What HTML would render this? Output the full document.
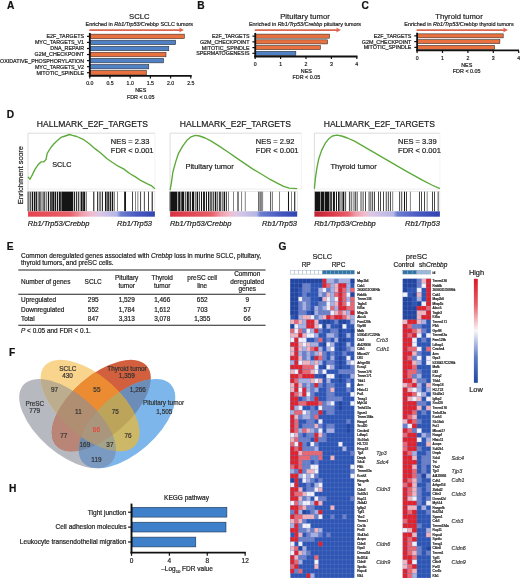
<!DOCTYPE html>
<html lang="en"><head><meta charset="utf-8"><title>Figure</title>
<style>html,body{margin:0;padding:0;background:#fff}svg{display:block}text{font-family:"Liberation Sans",sans-serif;stroke-width:0.2px}</style>
</head><body>
<svg width="520" height="580" viewBox="0 0 520 580">
<defs>
<linearGradient id="cs" x1="0" x2="0" y1="0" y2="1"><stop offset="0" stop-color="#D91A26"/><stop offset="0.25" stop-color="#E8606A"/><stop offset="0.5" stop-color="#FAF6FA"/><stop offset="0.75" stop-color="#5F7DC6"/><stop offset="1" stop-color="#1D48A0"/></linearGradient>
</defs>
<rect width="520" height="580" fill="#fff"/>
<text x="6.90" y="9.20" font-size="10.2" font-weight="bold" fill="#111" stroke="#111" stroke-width="0.38">A</text>
<rect x="90.40" y="34.15" width="93.94" height="4.50" fill="#E9713F" stroke="#2a2a2a" stroke-width="0.55"/>
<text x="84.10" y="38.33" font-size="5.35" text-anchor="end" fill="#222" stroke="#222">E2F_TARGETS</text>
<line x1="87.00" y1="36.40" x2="89.80" y2="36.40" stroke="#111" stroke-width="1.2"/>
<rect x="90.40" y="40.20" width="85.29" height="4.50" fill="#4F81C4" stroke="#2a2a2a" stroke-width="0.55"/>
<text x="84.10" y="44.38" font-size="5.35" text-anchor="end" fill="#222" stroke="#222">MYC_TARGETS_V1</text>
<line x1="87.00" y1="42.45" x2="89.80" y2="42.45" stroke="#111" stroke-width="1.2"/>
<rect x="90.40" y="46.25" width="78.38" height="4.50" fill="#4F81C4" stroke="#2a2a2a" stroke-width="0.55"/>
<text x="84.10" y="50.43" font-size="5.35" text-anchor="end" fill="#222" stroke="#222">DNA_REPAIR</text>
<line x1="87.00" y1="48.50" x2="89.80" y2="48.50" stroke="#111" stroke-width="1.2"/>
<rect x="90.40" y="52.30" width="75.59" height="4.50" fill="#E9713F" stroke="#2a2a2a" stroke-width="0.55"/>
<text x="84.10" y="56.48" font-size="5.35" text-anchor="end" fill="#222" stroke="#222">G2M_CHECKPOINT</text>
<line x1="87.00" y1="54.55" x2="89.80" y2="54.55" stroke="#111" stroke-width="1.2"/>
<rect x="90.40" y="58.35" width="73.17" height="4.50" fill="#4F81C4" stroke="#2a2a2a" stroke-width="0.55"/>
<text x="84.10" y="62.53" font-size="5.35" text-anchor="end" fill="#222" stroke="#222">OXIDATIVE_PHOSPHORYLATION</text>
<line x1="87.00" y1="60.60" x2="89.80" y2="60.60" stroke="#111" stroke-width="1.2"/>
<rect x="90.40" y="64.40" width="58.38" height="4.50" fill="#4F81C4" stroke="#2a2a2a" stroke-width="0.55"/>
<text x="84.10" y="68.58" font-size="5.35" text-anchor="end" fill="#222" stroke="#222">MYC_TARGETS_V2</text>
<line x1="87.00" y1="66.65" x2="89.80" y2="66.65" stroke="#111" stroke-width="1.2"/>
<rect x="90.40" y="70.45" width="55.96" height="4.50" fill="#E9713F" stroke="#2a2a2a" stroke-width="0.55"/>
<text x="84.10" y="74.63" font-size="5.35" text-anchor="end" fill="#222" stroke="#222">MITOTIC_SPINDLE</text>
<line x1="87.00" y1="72.70" x2="89.80" y2="72.70" stroke="#111" stroke-width="1.2"/>
<line x1="89.80" y1="32.95" x2="89.80" y2="76.70" stroke="#111" stroke-width="1.8"/>
<line x1="88.90" y1="75.80" x2="191.70" y2="75.80" stroke="#111" stroke-width="1.8"/>
<line x1="89.80" y1="75.80" x2="89.80" y2="78.40" stroke="#111" stroke-width="1.2"/>
<text x="89.80" y="85.00" font-size="5.2" text-anchor="middle" fill="#222" stroke="#222">0.0</text>
<line x1="110.00" y1="75.80" x2="110.00" y2="78.40" stroke="#111" stroke-width="1.2"/>
<text x="110.00" y="85.00" font-size="5.2" text-anchor="middle" fill="#222" stroke="#222">0.5</text>
<line x1="130.20" y1="75.80" x2="130.20" y2="78.40" stroke="#111" stroke-width="1.2"/>
<text x="130.20" y="85.00" font-size="5.2" text-anchor="middle" fill="#222" stroke="#222">1.0</text>
<line x1="150.40" y1="75.80" x2="150.40" y2="78.40" stroke="#111" stroke-width="1.2"/>
<text x="150.40" y="85.00" font-size="5.2" text-anchor="middle" fill="#222" stroke="#222">1.5</text>
<line x1="170.60" y1="75.80" x2="170.60" y2="78.40" stroke="#111" stroke-width="1.2"/>
<text x="170.60" y="85.00" font-size="5.2" text-anchor="middle" fill="#222" stroke="#222">2.0</text>
<line x1="190.80" y1="75.80" x2="190.80" y2="78.40" stroke="#111" stroke-width="1.2"/>
<text x="190.80" y="85.00" font-size="5.2" text-anchor="middle" fill="#222" stroke="#222">2.5</text>
<text x="140.75" y="92.30" font-size="5.4" text-anchor="middle" fill="#222" stroke="#222">NES</text>
<text x="140.75" y="98.50" font-size="5.4" text-anchor="middle" fill="#222" stroke="#222">FDR &lt; 0.05</text>
<text x="139.30" y="19.00" font-size="7.7" text-anchor="middle" fill="#222" stroke="#222">SCLC</text>
<text x="139.30" y="26.00" font-size="5.45" text-anchor="middle" fill="#222" stroke="#222">Enriched in <tspan font-style="italic">Rb1/Trp53/Crebbp</tspan> SCLC tumors</text>
<line x1="89.30" y1="30.10" x2="182.00" y2="30.10" stroke="#DC6450" stroke-width="1.6"/>
<path d="M184.00 30.10 l-5 -2.5 l1.3 2.5 l-1.3 2.5z" fill="#DC6450"/>
<text x="197.30" y="9.20" font-size="10.2" font-weight="bold" fill="#111" stroke="#111" stroke-width="0.38">B</text>
<rect x="255.80" y="34.10" width="73.82" height="4.10" fill="#E9713F" stroke="#2a2a2a" stroke-width="0.55"/>
<text x="249.50" y="38.08" font-size="5.35" text-anchor="end" fill="#222" stroke="#222">E2F_TARGETS</text>
<line x1="252.40" y1="36.15" x2="255.20" y2="36.15" stroke="#111" stroke-width="1.2"/>
<rect x="255.80" y="39.82" width="71.79" height="4.10" fill="#E9713F" stroke="#2a2a2a" stroke-width="0.55"/>
<text x="249.50" y="43.80" font-size="5.35" text-anchor="end" fill="#222" stroke="#222">G2M_CHECKPOINT</text>
<line x1="252.40" y1="41.87" x2="255.20" y2="41.87" stroke="#111" stroke-width="1.2"/>
<rect x="255.80" y="45.54" width="64.68" height="4.10" fill="#E9713F" stroke="#2a2a2a" stroke-width="0.55"/>
<text x="249.50" y="49.52" font-size="5.35" text-anchor="end" fill="#222" stroke="#222">MITOTIC_SPINDLE</text>
<line x1="252.40" y1="47.59" x2="255.20" y2="47.59" stroke="#111" stroke-width="1.2"/>
<rect x="255.80" y="51.26" width="40.04" height="4.10" fill="#4F81C4" stroke="#2a2a2a" stroke-width="0.55"/>
<text x="249.50" y="55.24" font-size="5.35" text-anchor="end" fill="#222" stroke="#222">SPERMATOGENESIS</text>
<line x1="252.40" y1="53.31" x2="255.20" y2="53.31" stroke="#111" stroke-width="1.2"/>
<line x1="255.20" y1="32.90" x2="255.20" y2="57.40" stroke="#111" stroke-width="1.8"/>
<line x1="254.30" y1="56.50" x2="357.50" y2="56.50" stroke="#111" stroke-width="1.8"/>
<line x1="255.20" y1="56.50" x2="255.20" y2="59.10" stroke="#111" stroke-width="1.2"/>
<text x="255.20" y="65.90" font-size="5.2" text-anchor="middle" fill="#222" stroke="#222">0</text>
<line x1="280.60" y1="56.50" x2="280.60" y2="59.10" stroke="#111" stroke-width="1.2"/>
<text x="280.60" y="65.90" font-size="5.2" text-anchor="middle" fill="#222" stroke="#222">1</text>
<line x1="306.00" y1="56.50" x2="306.00" y2="59.10" stroke="#111" stroke-width="1.2"/>
<text x="306.00" y="65.90" font-size="5.2" text-anchor="middle" fill="#222" stroke="#222">2</text>
<line x1="331.40" y1="56.50" x2="331.40" y2="59.10" stroke="#111" stroke-width="1.2"/>
<text x="331.40" y="65.90" font-size="5.2" text-anchor="middle" fill="#222" stroke="#222">3</text>
<line x1="356.80" y1="56.50" x2="356.80" y2="59.10" stroke="#111" stroke-width="1.2"/>
<text x="356.80" y="65.90" font-size="5.2" text-anchor="middle" fill="#222" stroke="#222">4</text>
<text x="306.35" y="72.60" font-size="5.4" text-anchor="middle" fill="#222" stroke="#222">NES</text>
<text x="306.35" y="79.00" font-size="5.4" text-anchor="middle" fill="#222" stroke="#222">FDR &lt; 0.05</text>
<text x="305.00" y="19.00" font-size="7.7" text-anchor="middle" fill="#222" stroke="#222">Pituitary tumor</text>
<text x="305.00" y="26.00" font-size="5.45" text-anchor="middle" fill="#222" stroke="#222">Enriched in <tspan font-style="italic">Rb1/Trp53/Crebbp</tspan> pituitary tumors</text>
<line x1="254.70" y1="30.10" x2="339.00" y2="30.10" stroke="#DC6450" stroke-width="1.6"/>
<path d="M341.00 30.10 l-5 -2.5 l1.3 2.5 l-1.3 2.5z" fill="#DC6450"/>
<text x="361.50" y="9.20" font-size="10.2" font-weight="bold" fill="#111" stroke="#111" stroke-width="0.38">C</text>
<rect x="417.70" y="33.85" width="85.51" height="4.00" fill="#E9713F" stroke="#2a2a2a" stroke-width="0.55"/>
<text x="411.40" y="37.78" font-size="5.35" text-anchor="end" fill="#222" stroke="#222">E2F_TARGETS</text>
<line x1="414.30" y1="35.85" x2="417.10" y2="35.85" stroke="#111" stroke-width="1.2"/>
<rect x="417.70" y="39.60" width="82.20" height="4.00" fill="#E9713F" stroke="#2a2a2a" stroke-width="0.55"/>
<text x="411.40" y="43.53" font-size="5.35" text-anchor="end" fill="#222" stroke="#222">G2M_CHECKPOINT</text>
<line x1="414.30" y1="41.60" x2="417.10" y2="41.60" stroke="#111" stroke-width="1.2"/>
<rect x="417.70" y="45.35" width="76.87" height="4.00" fill="#E9713F" stroke="#2a2a2a" stroke-width="0.55"/>
<text x="411.40" y="49.28" font-size="5.35" text-anchor="end" fill="#222" stroke="#222">MITOTIC_SPINDLE</text>
<line x1="414.30" y1="47.35" x2="417.10" y2="47.35" stroke="#111" stroke-width="1.2"/>
<line x1="417.10" y1="32.65" x2="417.10" y2="51.30" stroke="#111" stroke-width="1.8"/>
<line x1="416.20" y1="50.40" x2="519.00" y2="50.40" stroke="#111" stroke-width="1.8"/>
<line x1="417.10" y1="50.40" x2="417.10" y2="53.00" stroke="#111" stroke-width="1.2"/>
<text x="417.10" y="60.00" font-size="5.2" text-anchor="middle" fill="#222" stroke="#222">0</text>
<line x1="442.50" y1="50.40" x2="442.50" y2="53.00" stroke="#111" stroke-width="1.2"/>
<text x="442.50" y="60.00" font-size="5.2" text-anchor="middle" fill="#222" stroke="#222">1</text>
<line x1="467.90" y1="50.40" x2="467.90" y2="53.00" stroke="#111" stroke-width="1.2"/>
<text x="467.90" y="60.00" font-size="5.2" text-anchor="middle" fill="#222" stroke="#222">2</text>
<line x1="493.30" y1="50.40" x2="493.30" y2="53.00" stroke="#111" stroke-width="1.2"/>
<text x="493.30" y="60.00" font-size="5.2" text-anchor="middle" fill="#222" stroke="#222">3</text>
<line x1="518.70" y1="50.40" x2="518.70" y2="53.00" stroke="#111" stroke-width="1.2"/>
<text x="518.70" y="60.00" font-size="5.2" text-anchor="middle" fill="#222" stroke="#222">4</text>
<text x="466.70" y="66.90" font-size="5.4" text-anchor="middle" fill="#222" stroke="#222">NES</text>
<text x="466.70" y="73.00" font-size="5.4" text-anchor="middle" fill="#222" stroke="#222">FDR &lt; 0.05</text>
<text x="459.00" y="19.00" font-size="7.7" text-anchor="middle" fill="#222" stroke="#222">Thyroid tumor</text>
<text x="459.00" y="26.00" font-size="5.45" text-anchor="middle" fill="#222" stroke="#222">Enriched in <tspan font-style="italic">Rb1/Trp53/Crebbp</tspan> thyroid tumors</text>
<line x1="416.60" y1="30.10" x2="506.00" y2="30.10" stroke="#DC6450" stroke-width="1.6"/>
<path d="M508.00 30.10 l-5 -2.5 l1.3 2.5 l-1.3 2.5z" fill="#DC6450"/>
<text x="6.70" y="117.90" font-size="10.2" font-weight="bold" fill="#111" stroke="#111" stroke-width="0.38">D</text>
<text transform="translate(23.0 175.2) rotate(-90)" font-size="7.5" text-anchor="middle" fill="#222" stroke="#222">Enrichment score</text>
<path d="M28.00 190.80V133.20H154.90" fill="none" stroke="#d4d4d4" stroke-width="0.8"/>
<line x1="154.90" y1="133.20" x2="154.90" y2="189.10" stroke="#ececec" stroke-width="0.6"/>
<line x1="28.00" y1="189.10" x2="154.90" y2="189.10" stroke="#e0e0e0" stroke-width="0.6"/>
<path d="M28.0 176.9 L30.0 179.2 L32.3 174.9 L35.1 169.1 L38.0 164.8 L40.9 161.9 L43.7 161.9 L46.0 159.6 L47.2 153.3 L50.9 147.5 L53.8 144.0 L56.6 141.2 L60.9 137.4 L65.2 136.0 L69.5 134.5 L72.4 135.4 L76.7 136.5 L83.8 139.7 L89.6 144.0 L95.3 148.9 L101.0 153.3 L106.8 158.5 L112.5 162.5 L118.2 166.2 L124.0 169.1 L129.7 173.5 L135.4 176.9 L141.1 180.7 L146.9 183.6 L151.2 185.6 L154.9 188.7" fill="none" stroke="#5CAA3A" stroke-width="1.35" stroke-linejoin="round"/>
<text x="92.35" y="126.60" font-size="8.57" text-anchor="middle" fill="#222" stroke="#222">HALLMARK_E2F_TARGETS</text>
<text x="110.80" y="143.60" font-size="7.5" fill="#222" stroke="#222">NES = 2.33</text>
<text x="110.80" y="153.00" font-size="7.5" fill="#222" stroke="#222">FDR &lt; 0.001</text>
<text x="52.20" y="167.40" font-size="7.2" fill="#222" stroke="#222">SCLC</text>
<path d="M27.60 191.6H28.63V211.2H27.60zM29.67 191.6H30.71V211.2H29.67zM31.75 191.6H33.05V211.2H31.75zM33.83 191.6H35.38V211.2H33.83zM35.90 191.6H36.94V211.2H35.90zM37.72 191.6H38.50V211.2H37.72zM39.28 191.6H40.58V211.2H39.28zM41.62 191.6H42.39V211.2H41.62zM43.43 191.6H44.73V211.2H43.43zM45.77 191.6H46.55V211.2H45.77zM47.85 191.6H49.14V211.2H47.85zM50.18 191.6H51.74V211.2H50.18zM52.26 191.6H54.08V211.2H52.26zM54.60 191.6H56.15V211.2H54.60zM56.93 191.6H58.23V211.2H56.93zM59.01 191.6H60.83V211.2H59.01zM61.35 191.6H73.29V211.2H61.35zM74.07 191.6H75.11V211.2H74.07zM76.14 191.6H77.18V211.2H76.14zM78.22 191.6H79.26V211.2H78.22zM80.56 191.6H82.63V211.2H80.56zM83.15 191.6H85.23V211.2H83.15zM86.27 191.6H86.79V211.2H86.27zM93.28 191.6H94.32V211.2H93.28zM97.17 191.6H98.21V211.2H97.17zM99.51 191.6H100.55V211.2H99.51zM101.85 191.6H102.88V211.2H101.85zM104.96 191.6H106.52V211.2H104.96zM107.30 191.6H108.86V211.2H107.30zM109.63 191.6H110.93V211.2H109.63zM111.71 191.6H113.27V211.2H111.71zM114.05 191.6H114.57V211.2H114.05zM117.42 191.6H117.94V211.2H117.42zM124.17 191.6H125.99V211.2H124.17zM132.22 191.6H133.00V211.2H132.22zM135.08 191.6H135.60V211.2H135.08zM137.67 191.6H138.19V211.2H137.67zM140.27 191.6H141.05V211.2H140.27zM143.90 191.6H144.68V211.2H143.90zM148.06 191.6H148.84V211.2H148.06zM151.69 191.6H152.73V211.2H151.69z" fill="#151515"/>
<rect x="28.00" y="191.6" width="126.90" height="19.60" fill="none" stroke="#c4c4c4" stroke-width="0.4"/>
<linearGradient id="gsg1" x1="0" x2="1" y1="0" y2="0"><stop offset="0" stop-color="#E5434E"/><stop offset="0.33" stop-color="#E8606A"/><stop offset="0.42" stop-color="#EE9CAA"/><stop offset="0.5" stop-color="#F2BCCB"/><stop offset="0.56" stop-color="#DCC8E6"/><stop offset="0.7" stop-color="#B4B6E6"/><stop offset="0.73" stop-color="#6E7ED0"/><stop offset="0.85" stop-color="#4A5AC2"/><stop offset="1" stop-color="#3044B0"/></linearGradient>
<rect x="28.00" y="211.4" width="126.90" height="5.3" fill="url(#gsg1)"/>
<text x="27.80" y="225.80" font-size="7.5" font-style="italic" fill="#222" stroke="#222">Rb1/Trp53/Crebbp</text>
<text x="152.00" y="225.80" font-size="7.5" text-anchor="end" font-style="italic" fill="#222" stroke="#222">Rb1/Trp53</text>
<path d="M170.10 190.80V133.20H301.50" fill="none" stroke="#d4d4d4" stroke-width="0.8"/>
<line x1="301.50" y1="133.20" x2="301.50" y2="189.10" stroke="#ececec" stroke-width="0.6"/>
<line x1="170.10" y1="189.10" x2="301.50" y2="189.10" stroke="#e0e0e0" stroke-width="0.6"/>
<path d="M170.1 190.2 L171.5 182.1 L172.9 172.0 L175.7 161.9 L178.5 153.3 L182.7 146.1 L186.9 140.3 L191.1 136.8 L195.3 135.4 L199.6 136.0 L205.2 138.0 L210.8 140.9 L219.2 146.1 L227.6 151.8 L236.0 157.6 L244.5 163.4 L252.9 169.1 L261.3 174.0 L269.7 179.2 L278.1 183.6 L283.7 186.4 L289.3 188.2 L297.2 188.7" fill="none" stroke="#5CAA3A" stroke-width="1.35" stroke-linejoin="round"/>
<text x="235.40" y="126.60" font-size="8.57" text-anchor="middle" fill="#222" stroke="#222">HALLMARK_E2F_TARGETS</text>
<text x="255.80" y="143.60" font-size="7.5" fill="#222" stroke="#222">NES = 2.92</text>
<text x="255.80" y="153.00" font-size="7.5" fill="#222" stroke="#222">FDR &lt; 0.001</text>
<text x="185.40" y="168.50" font-size="7.5" fill="#222" stroke="#222">Pituitary tumor</text>
<path d="M169.60 191.6H177.38V211.2H169.60zM178.16 191.6H180.50V211.2H178.16zM181.28 191.6H184.13V211.2H181.28zM184.91 191.6H185.69V211.2H184.91zM186.73 191.6H188.81V211.2H186.73zM189.59 191.6H190.88V211.2H189.59zM191.92 191.6H194.00V211.2H191.92zM194.78 191.6H195.56V211.2H194.78zM196.60 191.6H198.15V211.2H196.60zM199.19 191.6H199.97V211.2H199.19zM201.01 191.6H202.05V211.2H201.01zM203.09 191.6H204.90V211.2H203.09zM205.94 191.6H206.98V211.2H205.94zM208.02 191.6H209.32V211.2H208.02zM210.36 191.6H211.65V211.2H210.36zM212.69 191.6H213.73V211.2H212.69zM214.77 191.6H216.33V211.2H214.77zM217.37 191.6H218.14V211.2H217.37zM219.18 191.6H220.74V211.2H219.18zM221.78 191.6H222.56V211.2H221.78zM223.60 191.6H225.15V211.2H223.60zM226.19 191.6H226.97V211.2H226.19zM228.27 191.6H228.79V211.2H228.27zM233.46 191.6H233.98V211.2H233.46zM237.10 191.6H237.62V211.2H237.10zM238.39 191.6H238.91V211.2H238.39zM241.51 191.6H242.03V211.2H241.51zM244.88 191.6H245.40V211.2H244.88zM258.38 191.6H259.42V211.2H258.38zM260.46 191.6H261.50V211.2H260.46zM262.54 191.6H263.06V211.2H262.54zM270.33 191.6H271.11V211.2H270.33zM272.14 191.6H272.66V211.2H272.14zM279.15 191.6H279.67V211.2H279.15zM287.98 191.6H289.02V211.2H287.98zM291.10 191.6H291.62V211.2H291.10zM294.21 191.6H295.25V211.2H294.21z" fill="#151515"/>
<rect x="170.10" y="191.6" width="127.10" height="19.60" fill="none" stroke="#c4c4c4" stroke-width="0.4"/>
<linearGradient id="gsg2" x1="0" x2="1" y1="0" y2="0"><stop offset="0" stop-color="#D93040"/><stop offset="0.33" stop-color="#E8606A"/><stop offset="0.4" stop-color="#EE9CAA"/><stop offset="0.47" stop-color="#F2BCCB"/><stop offset="0.52" stop-color="#DCC8E6"/><stop offset="0.68" stop-color="#B4B6E6"/><stop offset="0.71" stop-color="#6E7ED0"/><stop offset="0.85" stop-color="#4A5AC2"/><stop offset="1" stop-color="#3044B0"/></linearGradient>
<rect x="170.10" y="211.4" width="127.10" height="5.3" fill="url(#gsg2)"/>
<text x="169.90" y="225.80" font-size="7.5" font-style="italic" fill="#222" stroke="#222">Rb1/Trp53/Crebbp</text>
<text x="297.00" y="225.80" font-size="7.5" text-anchor="end" font-style="italic" fill="#222" stroke="#222">Rb1/Trp53</text>
<path d="M314.40 190.80V133.20H439.90" fill="none" stroke="#d4d4d4" stroke-width="0.8"/>
<line x1="439.90" y1="133.20" x2="439.90" y2="189.10" stroke="#ececec" stroke-width="0.6"/>
<line x1="314.40" y1="189.10" x2="439.90" y2="189.10" stroke="#e0e0e0" stroke-width="0.6"/>
<path d="M314.4 188.7 L315.3 179.2 L316.7 169.1 L318.7 159.0 L321.6 150.4 L325.3 143.2 L328.7 138.8 L332.5 136.0 L336.8 135.1 L341.6 136.0 L347.4 138.0 L354.5 141.2 L363.1 146.1 L371.7 151.2 L380.3 156.1 L388.9 161.1 L397.5 166.2 L406.1 171.1 L414.7 175.8 L423.3 180.7 L431.9 185.0 L439.9 188.7" fill="none" stroke="#5CAA3A" stroke-width="1.35" stroke-linejoin="round"/>
<text x="379.30" y="126.60" font-size="8.57" text-anchor="middle" fill="#222" stroke="#222">HALLMARK_E2F_TARGETS</text>
<text x="398.10" y="143.60" font-size="7.5" fill="#222" stroke="#222">NES = 3.39</text>
<text x="398.10" y="153.00" font-size="7.5" fill="#222" stroke="#222">FDR &lt; 0.001</text>
<text x="330.50" y="168.50" font-size="7.5" fill="#222" stroke="#222">Thyroid tumor</text>
<path d="M314.67 191.6H320.12V211.2H314.67zM320.64 191.6H324.02V211.2H320.64zM324.54 191.6H329.47V211.2H324.54zM330.25 191.6H331.81V211.2H330.25zM332.85 191.6H334.92V211.2H332.85zM335.96 191.6H337.00V211.2H335.96zM338.04 191.6H339.60V211.2H338.04zM340.63 191.6H341.41V211.2H340.63zM342.45 191.6H344.27V211.2H342.45zM345.31 191.6H346.09V211.2H345.31zM348.94 191.6H349.72V211.2H348.94zM350.76 191.6H351.54V211.2H350.76zM352.84 191.6H353.36V211.2H352.84zM354.65 191.6H355.69V211.2H354.65zM356.73 191.6H357.51V211.2H356.73zM360.62 191.6H361.40V211.2H360.62zM362.70 191.6H363.48V211.2H362.70zM365.04 191.6H365.82V211.2H365.04zM368.67 191.6H369.45V211.2H368.67zM370.49 191.6H371.27V211.2H370.49zM372.31 191.6H373.09V211.2H372.31zM374.12 191.6H374.90V211.2H374.12zM378.02 191.6H378.80V211.2H378.02zM380.10 191.6H380.88V211.2H380.10zM383.21 191.6H383.99V211.2H383.21zM385.81 191.6H386.59V211.2H385.81zM387.88 191.6H388.66V211.2H387.88zM389.96 191.6H390.74V211.2H389.96zM392.56 191.6H393.08V211.2H392.56zM399.31 191.6H400.09V211.2H399.31zM401.38 191.6H402.16V211.2H401.38zM403.98 191.6H405.02V211.2H403.98zM406.06 191.6H406.84V211.2H406.06zM409.95 191.6H410.47V211.2H409.95zM419.04 191.6H419.82V211.2H419.04zM421.12 191.6H421.89V211.2H421.12zM424.23 191.6H425.01V211.2H424.23zM426.83 191.6H427.35V211.2H426.83zM432.02 191.6H432.80V211.2H432.02zM434.10 191.6H434.88V211.2H434.10zM437.73 191.6H438.51V211.2H437.73z" fill="#151515"/>
<rect x="314.40" y="191.6" width="125.50" height="19.60" fill="none" stroke="#c4c4c4" stroke-width="0.4"/>
<linearGradient id="gsg3" x1="0" x2="1" y1="0" y2="0"><stop offset="0" stop-color="#C02234"/><stop offset="0.12" stop-color="#D93444"/><stop offset="0.27" stop-color="#E8606A"/><stop offset="0.33" stop-color="#EE9CAA"/><stop offset="0.4" stop-color="#F2BCCB"/><stop offset="0.45" stop-color="#DCC8E6"/><stop offset="0.63" stop-color="#B4B6E6"/><stop offset="0.66" stop-color="#6E7ED0"/><stop offset="0.82" stop-color="#4A5AC2"/><stop offset="1" stop-color="#3044B0"/></linearGradient>
<rect x="314.40" y="211.4" width="125.50" height="5.3" fill="url(#gsg3)"/>
<text x="314.20" y="225.80" font-size="7.5" font-style="italic" fill="#222" stroke="#222">Rb1/Trp53/Crebbp</text>
<text x="439.90" y="225.80" font-size="7.5" text-anchor="end" font-style="italic" fill="#222" stroke="#222">Rb1/Trp53</text>
<text x="6.80" y="249.60" font-size="10.2" font-weight="bold" fill="#111" stroke="#111" stroke-width="0.38">E</text>
<text x="21.00" y="258.30" font-size="6.5" fill="#222" stroke="#222">Common deregulated genes associated with <tspan font-style="italic">Crebbp</tspan> loss in murine SCLC, pituitary,</text>
<text x="21.00" y="265.00" font-size="6.5" fill="#222" stroke="#222">thyroid tumors, and preSC cells.</text>
<line x1="18.3" y1="270.0" x2="265.6" y2="270.0" stroke="#222" stroke-width="1.1"/>
<line x1="18.3" y1="294.3" x2="265.6" y2="294.3" stroke="#222" stroke-width="1.1"/>
<line x1="18.3" y1="325.2" x2="265.6" y2="325.2" stroke="#222" stroke-width="1.1"/>
<text x="21.00" y="283.80" font-size="6.45" fill="#222" stroke="#222">Number of genes</text>
<text x="93.20" y="283.80" font-size="6.45" text-anchor="middle" fill="#222" stroke="#222">SCLC</text>
<text x="126.70" y="279.90" font-size="6.45" text-anchor="middle" fill="#222" stroke="#222">Pituitary</text>
<text x="126.70" y="287.70" font-size="6.45" text-anchor="middle" fill="#222" stroke="#222">tumor</text>
<text x="162.20" y="279.90" font-size="6.45" text-anchor="middle" fill="#222" stroke="#222">Thyroid</text>
<text x="162.20" y="287.70" font-size="6.45" text-anchor="middle" fill="#222" stroke="#222">tumor</text>
<text x="202.20" y="279.90" font-size="6.45" text-anchor="middle" fill="#222" stroke="#222">preSC cell</text>
<text x="202.20" y="287.70" font-size="6.45" text-anchor="middle" fill="#222" stroke="#222">line</text>
<text x="247.20" y="276.20" font-size="6.45" text-anchor="middle" fill="#222" stroke="#222">Common</text>
<text x="247.20" y="283.80" font-size="6.45" text-anchor="middle" fill="#222" stroke="#222">deregulated</text>
<text x="247.20" y="291.40" font-size="6.45" text-anchor="middle" fill="#222" stroke="#222">genes</text>
<text x="21.00" y="302.20" font-size="6.45" fill="#222" stroke="#222">Upregulated</text>
<text x="93.20" y="302.20" font-size="6.45" text-anchor="middle" fill="#222" stroke="#222">295</text>
<text x="126.70" y="302.20" font-size="6.45" text-anchor="middle" fill="#222" stroke="#222">1,529</text>
<text x="162.20" y="302.20" font-size="6.45" text-anchor="middle" fill="#222" stroke="#222">1,466</text>
<text x="202.20" y="302.20" font-size="6.45" text-anchor="middle" fill="#222" stroke="#222">652</text>
<text x="247.20" y="302.20" font-size="6.45" text-anchor="middle" fill="#222" stroke="#222">9</text>
<text x="21.00" y="311.60" font-size="6.45" fill="#222" stroke="#222">Downregulated</text>
<text x="93.20" y="311.60" font-size="6.45" text-anchor="middle" fill="#222" stroke="#222">552</text>
<text x="126.70" y="311.60" font-size="6.45" text-anchor="middle" fill="#222" stroke="#222">1,784</text>
<text x="162.20" y="311.60" font-size="6.45" text-anchor="middle" fill="#222" stroke="#222">1,612</text>
<text x="202.20" y="311.60" font-size="6.45" text-anchor="middle" fill="#222" stroke="#222">703</text>
<text x="247.20" y="311.60" font-size="6.45" text-anchor="middle" fill="#222" stroke="#222">57</text>
<text x="21.00" y="321.00" font-size="6.45" fill="#222" stroke="#222">Total</text>
<text x="93.20" y="321.00" font-size="6.45" text-anchor="middle" fill="#222" stroke="#222">847</text>
<text x="126.70" y="321.00" font-size="6.45" text-anchor="middle" fill="#222" stroke="#222">3,313</text>
<text x="162.20" y="321.00" font-size="6.45" text-anchor="middle" fill="#222" stroke="#222">3,078</text>
<text x="202.20" y="321.00" font-size="6.45" text-anchor="middle" fill="#222" stroke="#222">1,355</text>
<text x="247.20" y="321.00" font-size="6.45" text-anchor="middle" fill="#222" stroke="#222">66</text>
<text x="21.00" y="333.00" font-size="6.45" fill="#222" stroke="#222"><tspan font-style="italic">P</tspan> &lt; 0.05 and FDR &lt; 0.1.</text>
<text x="8.90" y="356.40" font-size="10.2" font-weight="bold" fill="#111" stroke="#111" stroke-width="0.38">F</text>
<defs><clipPath id="cg"><ellipse cx="67.5" cy="423.65" rx="58.7" ry="29.7" transform="rotate(41.2 67.5 423.65)"/></clipPath><clipPath id="cy"><ellipse cx="90.1" cy="405.55" rx="60.3" ry="30.2" transform="rotate(41.2 90.1 405.55)"/></clipPath><clipPath id="cr"><ellipse cx="101.3" cy="405.55" rx="60.3" ry="30.2" transform="rotate(-41.2 101.3 405.55)"/></clipPath><clipPath id="cb"><ellipse cx="127.0" cy="423.6" rx="58.7" ry="29.7" transform="rotate(-41.2 127.0 423.6)"/></clipPath></defs>
<ellipse cx="67.5" cy="423.65" rx="58.7" ry="29.7" transform="rotate(41.2 67.5 423.65)" fill="#B7B9C1"/>
<ellipse cx="90.1" cy="405.55" rx="60.3" ry="30.2" transform="rotate(41.2 90.1 405.55)" fill="#F8D48C"/>
<ellipse cx="101.3" cy="405.55" rx="60.3" ry="30.2" transform="rotate(-41.2 101.3 405.55)" fill="#D2603F"/>
<ellipse cx="127.0" cy="423.6" rx="58.7" ry="29.7" transform="rotate(-41.2 127.0 423.6)" fill="#7DB6EA"/>
<g clip-path="url(#cy)"><ellipse cx="67.5" cy="423.65" rx="58.7" ry="29.7" transform="rotate(41.2 67.5 423.65)" fill="#BBAD8E"/></g>
<g clip-path="url(#cr)"><ellipse cx="90.1" cy="405.55" rx="60.3" ry="30.2" transform="rotate(41.2 90.1 405.55)" fill="#EB8C32"/></g>
<g clip-path="url(#cb)"><ellipse cx="101.3" cy="405.55" rx="60.3" ry="30.2" transform="rotate(-41.2 101.3 405.55)" fill="#6B8DB8"/></g>
<g clip-path="url(#cr)"><ellipse cx="67.5" cy="423.65" rx="58.7" ry="29.7" transform="rotate(41.2 67.5 423.65)" fill="#B98576"/></g>
<g clip-path="url(#cb)"><ellipse cx="90.1" cy="405.55" rx="60.3" ry="30.2" transform="rotate(41.2 90.1 405.55)" fill="#CDB868"/></g>
<g clip-path="url(#cb)"><ellipse cx="67.5" cy="423.65" rx="58.7" ry="29.7" transform="rotate(41.2 67.5 423.65)" fill="#7B9AC2"/></g>
<g clip-path="url(#cr)"><g clip-path="url(#cy)"><ellipse cx="67.5" cy="423.65" rx="58.7" ry="29.7" transform="rotate(41.2 67.5 423.65)" fill="#B08E72"/></g></g>
<g clip-path="url(#cb)"><g clip-path="url(#cr)"><ellipse cx="90.1" cy="405.55" rx="60.3" ry="30.2" transform="rotate(41.2 90.1 405.55)" fill="#BCA45A"/></g></g>
<g clip-path="url(#cb)"><g clip-path="url(#cr)"><ellipse cx="67.5" cy="423.65" rx="58.7" ry="29.7" transform="rotate(41.2 67.5 423.65)" fill="#7189A9"/></g></g>
<g clip-path="url(#cb)"><g clip-path="url(#cy)"><ellipse cx="67.5" cy="423.65" rx="58.7" ry="29.7" transform="rotate(41.2 67.5 423.65)" fill="#A3A38A"/></g></g>
<g clip-path="url(#cb)"><g clip-path="url(#cr)"><g clip-path="url(#cy)"><ellipse cx="67.5" cy="423.65" rx="58.7" ry="29.7" transform="rotate(41.2 67.5 423.65)" fill="#AA967D"/></g></g></g>
<text x="67.90" y="371.20" font-size="6.4" text-anchor="middle" fill="#333" stroke="#333">SCLC</text>
<text x="67.60" y="377.60" font-size="6.4" text-anchor="middle" fill="#333" stroke="#333">430</text>
<text x="127.00" y="370.90" font-size="6.4" text-anchor="middle" fill="#333" stroke="#333">Thyroid tumor</text>
<text x="126.80" y="378.10" font-size="6.4" text-anchor="middle" fill="#333" stroke="#333">1,359</text>
<text x="34.80" y="405.50" font-size="6.4" text-anchor="middle" fill="#333" stroke="#333">PreSC</text>
<text x="34.70" y="413.20" font-size="6.4" text-anchor="middle" fill="#333" stroke="#333">779</text>
<text x="163.60" y="405.40" font-size="6.4" text-anchor="middle" fill="#333" stroke="#333">Pituitary tumor</text>
<text x="164.30" y="413.60" font-size="6.4" text-anchor="middle" fill="#333" stroke="#333">1,505</text>
<text x="54.50" y="392.10" font-size="6.4" text-anchor="middle" fill="#333" stroke="#333">97</text>
<text x="96.90" y="392.10" font-size="6.4" text-anchor="middle" fill="#333" stroke="#333">55</text>
<text x="137.80" y="392.10" font-size="6.4" text-anchor="middle" fill="#333" stroke="#333">1,266</text>
<text x="78.40" y="413.60" font-size="6.4" text-anchor="middle" fill="#333" stroke="#333">11</text>
<text x="115.20" y="413.60" font-size="6.4" text-anchor="middle" fill="#333" stroke="#333">75</text>
<text x="96.40" y="431.90" font-size="6.4" text-anchor="middle" fill="#E8453C" stroke="#E8453C">66</text>
<text x="63.70" y="438.20" font-size="6.4" text-anchor="middle" fill="#333" stroke="#333">77</text>
<text x="128.10" y="438.20" font-size="6.4" text-anchor="middle" fill="#333" stroke="#333">76</text>
<text x="84.90" y="447.20" font-size="6.4" text-anchor="middle" fill="#333" stroke="#333">169</text>
<text x="109.90" y="447.20" font-size="6.4" text-anchor="middle" fill="#333" stroke="#333">37</text>
<text x="96.40" y="462.10" font-size="6.4" text-anchor="middle" fill="#333" stroke="#333">119</text>
<text x="278.40" y="249.80" font-size="10.2" font-weight="bold" fill="#111" stroke="#111" stroke-width="0.38">G</text>
<text x="322.30" y="258.80" font-size="7.4" text-anchor="middle" fill="#222" stroke="#222">SCLC</text>
<text x="306.20" y="266.70" font-size="6.5" text-anchor="middle" fill="#222" stroke="#222">RP</text>
<text x="338.50" y="266.70" font-size="6.5" text-anchor="middle" fill="#222" stroke="#222">RPC</text>
<text x="416.50" y="259.00" font-size="7.6" text-anchor="middle" fill="#222" stroke="#222">preSC</text>
<text x="404.00" y="266.70" font-size="6.5" text-anchor="middle" fill="#222" stroke="#222">Control</text>
<text x="433.20" y="266.70" font-size="6.5" text-anchor="middle" fill="#222" stroke="#222">sh<tspan font-style="italic">Crebbp</tspan></text>
<rect x="290.40" y="270.2" width="4.0" height="3.9" fill="#FFFFFF" stroke="#8fa6b8" stroke-width="0.4"/>
<rect x="294.40" y="270.2" width="4.0" height="3.9" fill="#FFFFFF" stroke="#8fa6b8" stroke-width="0.4"/>
<rect x="298.40" y="270.2" width="4.0" height="3.9" fill="#FFFFFF" stroke="#8fa6b8" stroke-width="0.4"/>
<rect x="302.40" y="270.2" width="4.0" height="3.9" fill="#FFFFFF" stroke="#8fa6b8" stroke-width="0.4"/>
<rect x="306.40" y="270.2" width="4.0" height="3.9" fill="#FFFFFF" stroke="#8fa6b8" stroke-width="0.4"/>
<rect x="310.40" y="270.2" width="4.0" height="3.9" fill="#FFFFFF" stroke="#8fa6b8" stroke-width="0.4"/>
<rect x="314.40" y="270.2" width="4.0" height="3.9" fill="#FFFFFF" stroke="#8fa6b8" stroke-width="0.4"/>
<rect x="318.40" y="270.2" width="4.0" height="3.9" fill="#FFFFFF" stroke="#8fa6b8" stroke-width="0.4"/>
<rect x="322.40" y="270.2" width="4.0" height="3.9" fill="#2F74A8" stroke="#8fa6b8" stroke-width="0.4"/>
<rect x="326.40" y="270.2" width="4.0" height="3.9" fill="#2F74A8" stroke="#8fa6b8" stroke-width="0.4"/>
<rect x="330.40" y="270.2" width="4.0" height="3.9" fill="#2F74A8" stroke="#8fa6b8" stroke-width="0.4"/>
<rect x="334.40" y="270.2" width="4.0" height="3.9" fill="#2F74A8" stroke="#8fa6b8" stroke-width="0.4"/>
<rect x="338.40" y="270.2" width="4.0" height="3.9" fill="#2F74A8" stroke="#8fa6b8" stroke-width="0.4"/>
<rect x="342.40" y="270.2" width="4.0" height="3.9" fill="#2F74A8" stroke="#8fa6b8" stroke-width="0.4"/>
<rect x="346.40" y="270.2" width="4.0" height="3.9" fill="#2F74A8" stroke="#8fa6b8" stroke-width="0.4"/>
<rect x="350.40" y="270.2" width="4.0" height="3.9" fill="#2F74A8" stroke="#8fa6b8" stroke-width="0.4"/>
<text x="357.20" y="273.60" font-size="2.9" font-weight="bold" fill="#111" stroke="#111">id</text>
<rect x="290.4" y="278.8" width="64.00" height="299.11" fill="#2D55B4"/>
<rect x="290.40" y="278.80" width="32.05" height="4.58" fill="#22459F"/>
<rect x="322.40" y="278.80" width="4.05" height="4.58" fill="#DF222C"/>
<rect x="326.40" y="278.80" width="8.05" height="4.58" fill="#A8B0E0"/>
<rect x="334.40" y="278.80" width="4.05" height="4.58" fill="#6A7FC8"/>
<rect x="338.40" y="278.80" width="12.05" height="4.58" fill="#A8B0E0"/>
<rect x="350.40" y="278.80" width="4.05" height="4.58" fill="#22459F"/>
<rect x="290.40" y="283.33" width="12.05" height="4.58" fill="#22459F"/>
<rect x="302.40" y="283.33" width="8.05" height="4.58" fill="#6A7FC8"/>
<rect x="322.40" y="283.33" width="4.05" height="4.58" fill="#DF222C"/>
<rect x="326.40" y="283.33" width="4.05" height="4.58" fill="#EA6670"/>
<rect x="330.40" y="283.33" width="4.05" height="4.58" fill="#A8B0E0"/>
<rect x="334.40" y="283.33" width="4.05" height="4.58" fill="#F2B4BC"/>
<rect x="338.40" y="283.33" width="8.05" height="4.58" fill="#DF222C"/>
<rect x="346.40" y="283.33" width="4.05" height="4.58" fill="#A8B0E0"/>
<rect x="290.40" y="287.86" width="8.05" height="4.58" fill="#22459F"/>
<rect x="302.40" y="287.86" width="8.05" height="4.58" fill="#6A7FC8"/>
<rect x="318.40" y="287.86" width="4.05" height="4.58" fill="#A8B0E0"/>
<rect x="322.40" y="287.86" width="4.05" height="4.58" fill="#F2F0F8"/>
<rect x="326.40" y="287.86" width="4.05" height="4.58" fill="#6A7FC8"/>
<rect x="330.40" y="287.86" width="4.05" height="4.58" fill="#A8B0E0"/>
<rect x="334.40" y="287.86" width="4.05" height="4.58" fill="#F2B4BC"/>
<rect x="338.40" y="287.86" width="4.05" height="4.58" fill="#DF222C"/>
<rect x="342.40" y="287.86" width="4.05" height="4.58" fill="#EA6670"/>
<rect x="346.40" y="287.86" width="4.05" height="4.58" fill="#A8B0E0"/>
<rect x="350.40" y="287.86" width="4.05" height="4.58" fill="#EA6670"/>
<rect x="290.40" y="292.40" width="8.05" height="4.58" fill="#22459F"/>
<rect x="302.40" y="292.40" width="4.05" height="4.58" fill="#6A7FC8"/>
<rect x="318.40" y="292.40" width="4.05" height="4.58" fill="#A8B0E0"/>
<rect x="322.40" y="292.40" width="4.05" height="4.58" fill="#6A7FC8"/>
<rect x="326.40" y="292.40" width="4.05" height="4.58" fill="#F2B4BC"/>
<rect x="330.40" y="292.40" width="4.05" height="4.58" fill="#A8B0E0"/>
<rect x="334.40" y="292.40" width="4.05" height="4.58" fill="#EA6670"/>
<rect x="338.40" y="292.40" width="4.05" height="4.58" fill="#DF222C"/>
<rect x="342.40" y="292.40" width="4.05" height="4.58" fill="#EA6670"/>
<rect x="346.40" y="292.40" width="4.05" height="4.58" fill="#F2F0F8"/>
<rect x="350.40" y="292.40" width="4.05" height="4.58" fill="#22459F"/>
<rect x="290.40" y="296.93" width="8.05" height="4.58" fill="#22459F"/>
<rect x="298.40" y="296.93" width="4.05" height="4.58" fill="#F2F0F8"/>
<rect x="302.40" y="296.93" width="8.05" height="4.58" fill="#6A7FC8"/>
<rect x="318.40" y="296.93" width="4.05" height="4.58" fill="#22459F"/>
<rect x="322.40" y="296.93" width="4.05" height="4.58" fill="#F2B4BC"/>
<rect x="326.40" y="296.93" width="4.05" height="4.58" fill="#F2F0F8"/>
<rect x="330.40" y="296.93" width="4.05" height="4.58" fill="#A8B0E0"/>
<rect x="334.40" y="296.93" width="4.05" height="4.58" fill="#F2F0F8"/>
<rect x="338.40" y="296.93" width="4.05" height="4.58" fill="#DF222C"/>
<rect x="342.40" y="296.93" width="4.05" height="4.58" fill="#EA6670"/>
<rect x="346.40" y="296.93" width="4.05" height="4.58" fill="#A8B0E0"/>
<rect x="350.40" y="296.93" width="4.05" height="4.58" fill="#EA6670"/>
<rect x="290.40" y="301.46" width="8.05" height="4.58" fill="#22459F"/>
<rect x="298.40" y="301.46" width="4.05" height="4.58" fill="#6A7FC8"/>
<rect x="302.40" y="301.46" width="4.05" height="4.58" fill="#A8B0E0"/>
<rect x="306.40" y="301.46" width="4.05" height="4.58" fill="#6A7FC8"/>
<rect x="318.40" y="301.46" width="8.05" height="4.58" fill="#6A7FC8"/>
<rect x="326.40" y="301.46" width="4.05" height="4.58" fill="#F2F0F8"/>
<rect x="330.40" y="301.46" width="4.05" height="4.58" fill="#A8B0E0"/>
<rect x="334.40" y="301.46" width="4.05" height="4.58" fill="#F2B4BC"/>
<rect x="338.40" y="301.46" width="4.05" height="4.58" fill="#DF222C"/>
<rect x="342.40" y="301.46" width="4.05" height="4.58" fill="#EA6670"/>
<rect x="346.40" y="301.46" width="4.05" height="4.58" fill="#F2F0F8"/>
<rect x="350.40" y="301.46" width="4.05" height="4.58" fill="#EA6670"/>
<rect x="290.40" y="305.99" width="8.05" height="4.58" fill="#22459F"/>
<rect x="298.40" y="305.99" width="4.05" height="4.58" fill="#6A7FC8"/>
<rect x="302.40" y="305.99" width="4.05" height="4.58" fill="#A8B0E0"/>
<rect x="306.40" y="305.99" width="4.05" height="4.58" fill="#6A7FC8"/>
<rect x="314.40" y="305.99" width="4.05" height="4.58" fill="#A8B0E0"/>
<rect x="318.40" y="305.99" width="4.05" height="4.58" fill="#6A7FC8"/>
<rect x="322.40" y="305.99" width="4.05" height="4.58" fill="#A8B0E0"/>
<rect x="326.40" y="305.99" width="4.05" height="4.58" fill="#F2F0F8"/>
<rect x="330.40" y="305.99" width="4.05" height="4.58" fill="#EA6670"/>
<rect x="334.40" y="305.99" width="4.05" height="4.58" fill="#A8B0E0"/>
<rect x="338.40" y="305.99" width="8.05" height="4.58" fill="#DF222C"/>
<rect x="346.40" y="305.99" width="8.05" height="4.58" fill="#EA6670"/>
<rect x="290.40" y="310.52" width="8.05" height="4.58" fill="#22459F"/>
<rect x="298.40" y="310.52" width="8.05" height="4.58" fill="#6A7FC8"/>
<rect x="310.40" y="310.52" width="4.05" height="4.58" fill="#22459F"/>
<rect x="314.40" y="310.52" width="4.05" height="4.58" fill="#A8B0E0"/>
<rect x="318.40" y="310.52" width="12.05" height="4.58" fill="#6A7FC8"/>
<rect x="330.40" y="310.52" width="4.05" height="4.58" fill="#F2F0F8"/>
<rect x="334.40" y="310.52" width="4.05" height="4.58" fill="#F2B4BC"/>
<rect x="338.40" y="310.52" width="4.05" height="4.58" fill="#EA6670"/>
<rect x="342.40" y="310.52" width="4.05" height="4.58" fill="#F2B4BC"/>
<rect x="346.40" y="310.52" width="4.05" height="4.58" fill="#A8B0E0"/>
<rect x="350.40" y="310.52" width="4.05" height="4.58" fill="#DF222C"/>
<rect x="294.40" y="315.06" width="4.05" height="4.58" fill="#22459F"/>
<rect x="298.40" y="315.06" width="4.05" height="4.58" fill="#A8B0E0"/>
<rect x="302.40" y="315.06" width="8.05" height="4.58" fill="#F2B4BC"/>
<rect x="310.40" y="315.06" width="4.05" height="4.58" fill="#F2F0F8"/>
<rect x="314.40" y="315.06" width="4.05" height="4.58" fill="#6A7FC8"/>
<rect x="318.40" y="315.06" width="4.05" height="4.58" fill="#A8B0E0"/>
<rect x="322.40" y="315.06" width="4.05" height="4.58" fill="#F2B4BC"/>
<rect x="326.40" y="315.06" width="4.05" height="4.58" fill="#DF222C"/>
<rect x="330.40" y="315.06" width="4.05" height="4.58" fill="#EA6670"/>
<rect x="334.40" y="315.06" width="8.05" height="4.58" fill="#DF222C"/>
<rect x="342.40" y="315.06" width="4.05" height="4.58" fill="#EA6670"/>
<rect x="346.40" y="315.06" width="4.05" height="4.58" fill="#F2B4BC"/>
<rect x="350.40" y="315.06" width="4.05" height="4.58" fill="#A8B0E0"/>
<rect x="290.40" y="319.59" width="4.05" height="4.58" fill="#F2B4BC"/>
<rect x="294.40" y="319.59" width="4.05" height="4.58" fill="#EA6670"/>
<rect x="298.40" y="319.59" width="4.05" height="4.58" fill="#F2B4BC"/>
<rect x="302.40" y="319.59" width="4.05" height="4.58" fill="#A8B0E0"/>
<rect x="306.40" y="319.59" width="8.05" height="4.58" fill="#DF222C"/>
<rect x="314.40" y="319.59" width="4.05" height="4.58" fill="#F2B4BC"/>
<rect x="322.40" y="319.59" width="8.05" height="4.58" fill="#22459F"/>
<rect x="334.40" y="319.59" width="4.05" height="4.58" fill="#6A7FC8"/>
<rect x="338.40" y="319.59" width="8.05" height="4.58" fill="#22459F"/>
<rect x="350.40" y="319.59" width="4.05" height="4.58" fill="#A8B0E0"/>
<rect x="290.40" y="324.12" width="4.05" height="4.58" fill="#22459F"/>
<rect x="294.40" y="324.12" width="4.05" height="4.58" fill="#F2F0F8"/>
<rect x="298.40" y="324.12" width="8.05" height="4.58" fill="#A8B0E0"/>
<rect x="306.40" y="324.12" width="8.05" height="4.58" fill="#DF222C"/>
<rect x="314.40" y="324.12" width="4.05" height="4.58" fill="#F2B4BC"/>
<rect x="318.40" y="324.12" width="4.05" height="4.58" fill="#F2F0F8"/>
<rect x="322.40" y="324.12" width="4.05" height="4.58" fill="#22459F"/>
<rect x="326.40" y="324.12" width="4.05" height="4.58" fill="#A8B0E0"/>
<rect x="338.40" y="324.12" width="4.05" height="4.58" fill="#22459F"/>
<rect x="342.40" y="324.12" width="4.05" height="4.58" fill="#F2F0F8"/>
<rect x="290.40" y="328.65" width="4.05" height="4.58" fill="#EA6670"/>
<rect x="294.40" y="328.65" width="4.05" height="4.58" fill="#F2F0F8"/>
<rect x="298.40" y="328.65" width="4.05" height="4.58" fill="#EA6670"/>
<rect x="302.40" y="328.65" width="4.05" height="4.58" fill="#6A7FC8"/>
<rect x="306.40" y="328.65" width="4.05" height="4.58" fill="#F2F0F8"/>
<rect x="310.40" y="328.65" width="4.05" height="4.58" fill="#A8B0E0"/>
<rect x="314.40" y="328.65" width="4.05" height="4.58" fill="#DF222C"/>
<rect x="318.40" y="328.65" width="4.05" height="4.58" fill="#6A7FC8"/>
<rect x="330.40" y="328.65" width="8.05" height="4.58" fill="#6A7FC8"/>
<rect x="338.40" y="328.65" width="4.05" height="4.58" fill="#22459F"/>
<rect x="350.40" y="328.65" width="4.05" height="4.58" fill="#22459F"/>
<rect x="290.40" y="333.18" width="8.05" height="4.58" fill="#F2B4BC"/>
<rect x="298.40" y="333.18" width="4.05" height="4.58" fill="#DF222C"/>
<rect x="302.40" y="333.18" width="4.05" height="4.58" fill="#F2B4BC"/>
<rect x="306.40" y="333.18" width="8.05" height="4.58" fill="#F2F0F8"/>
<rect x="314.40" y="333.18" width="4.05" height="4.58" fill="#A8B0E0"/>
<rect x="326.40" y="333.18" width="8.05" height="4.58" fill="#A8B0E0"/>
<rect x="334.40" y="333.18" width="4.05" height="4.58" fill="#6A7FC8"/>
<rect x="338.40" y="333.18" width="4.05" height="4.58" fill="#22459F"/>
<rect x="346.40" y="333.18" width="4.05" height="4.58" fill="#A8B0E0"/>
<rect x="290.40" y="337.72" width="4.05" height="4.58" fill="#F2F0F8"/>
<rect x="294.40" y="337.72" width="4.05" height="4.58" fill="#DF222C"/>
<rect x="298.40" y="337.72" width="8.05" height="4.58" fill="#F2F0F8"/>
<rect x="314.40" y="337.72" width="4.05" height="4.58" fill="#6A7FC8"/>
<rect x="318.40" y="337.72" width="4.05" height="4.58" fill="#EA6670"/>
<rect x="326.40" y="337.72" width="4.05" height="4.58" fill="#6A7FC8"/>
<rect x="334.40" y="337.72" width="4.05" height="4.58" fill="#A8B0E0"/>
<rect x="338.40" y="337.72" width="8.05" height="4.58" fill="#22459F"/>
<rect x="290.40" y="342.25" width="8.05" height="4.58" fill="#DF222C"/>
<rect x="298.40" y="342.25" width="4.05" height="4.58" fill="#F2B4BC"/>
<rect x="302.40" y="342.25" width="4.05" height="4.58" fill="#F2F0F8"/>
<rect x="306.40" y="342.25" width="4.05" height="4.58" fill="#F2B4BC"/>
<rect x="310.40" y="342.25" width="8.05" height="4.58" fill="#A8B0E0"/>
<rect x="322.40" y="342.25" width="4.05" height="4.58" fill="#22459F"/>
<rect x="326.40" y="342.25" width="4.05" height="4.58" fill="#F2F0F8"/>
<rect x="330.40" y="342.25" width="4.05" height="4.58" fill="#A8B0E0"/>
<rect x="338.40" y="342.25" width="4.05" height="4.58" fill="#22459F"/>
<rect x="346.40" y="342.25" width="4.05" height="4.58" fill="#A8B0E0"/>
<rect x="290.40" y="346.78" width="4.05" height="4.58" fill="#F2B4BC"/>
<rect x="294.40" y="346.78" width="4.05" height="4.58" fill="#DF222C"/>
<rect x="298.40" y="346.78" width="4.05" height="4.58" fill="#F2B4BC"/>
<rect x="302.40" y="346.78" width="4.05" height="4.58" fill="#A8B0E0"/>
<rect x="306.40" y="346.78" width="4.05" height="4.58" fill="#F2B4BC"/>
<rect x="310.40" y="346.78" width="4.05" height="4.58" fill="#EA6670"/>
<rect x="314.40" y="346.78" width="4.05" height="4.58" fill="#DF222C"/>
<rect x="318.40" y="346.78" width="4.05" height="4.58" fill="#A8B0E0"/>
<rect x="326.40" y="346.78" width="4.05" height="4.58" fill="#A8B0E0"/>
<rect x="330.40" y="346.78" width="4.05" height="4.58" fill="#F2F0F8"/>
<rect x="338.40" y="346.78" width="4.05" height="4.58" fill="#22459F"/>
<rect x="346.40" y="346.78" width="4.05" height="4.58" fill="#6A7FC8"/>
<rect x="350.40" y="346.78" width="4.05" height="4.58" fill="#A8B0E0"/>
<rect x="290.40" y="351.31" width="4.05" height="4.58" fill="#F2B4BC"/>
<rect x="294.40" y="351.31" width="4.05" height="4.58" fill="#DF222C"/>
<rect x="298.40" y="351.31" width="4.05" height="4.58" fill="#A8B0E0"/>
<rect x="302.40" y="351.31" width="4.05" height="4.58" fill="#6A7FC8"/>
<rect x="306.40" y="351.31" width="4.05" height="4.58" fill="#A8B0E0"/>
<rect x="310.40" y="351.31" width="4.05" height="4.58" fill="#6A7FC8"/>
<rect x="314.40" y="351.31" width="4.05" height="4.58" fill="#A8B0E0"/>
<rect x="318.40" y="351.31" width="4.05" height="4.58" fill="#F2B4BC"/>
<rect x="322.40" y="351.31" width="4.05" height="4.58" fill="#6A7FC8"/>
<rect x="330.40" y="351.31" width="4.05" height="4.58" fill="#6A7FC8"/>
<rect x="342.40" y="351.31" width="4.05" height="4.58" fill="#6A7FC8"/>
<rect x="290.40" y="355.84" width="8.05" height="4.58" fill="#DF222C"/>
<rect x="298.40" y="355.84" width="4.05" height="4.58" fill="#F2B4BC"/>
<rect x="302.40" y="355.84" width="4.05" height="4.58" fill="#6A7FC8"/>
<rect x="306.40" y="355.84" width="4.05" height="4.58" fill="#A8B0E0"/>
<rect x="314.40" y="355.84" width="4.05" height="4.58" fill="#DF222C"/>
<rect x="318.40" y="355.84" width="4.05" height="4.58" fill="#EA6670"/>
<rect x="322.40" y="355.84" width="4.05" height="4.58" fill="#6A7FC8"/>
<rect x="330.40" y="355.84" width="4.05" height="4.58" fill="#A8B0E0"/>
<rect x="338.40" y="355.84" width="4.05" height="4.58" fill="#22459F"/>
<rect x="346.40" y="355.84" width="4.05" height="4.58" fill="#F2F0F8"/>
<rect x="290.40" y="360.38" width="4.05" height="4.58" fill="#A8B0E0"/>
<rect x="294.40" y="360.38" width="4.05" height="4.58" fill="#DF222C"/>
<rect x="298.40" y="360.38" width="4.05" height="4.58" fill="#F2F0F8"/>
<rect x="302.40" y="360.38" width="8.05" height="4.58" fill="#F2B4BC"/>
<rect x="310.40" y="360.38" width="4.05" height="4.58" fill="#A8B0E0"/>
<rect x="314.40" y="360.38" width="4.05" height="4.58" fill="#F2B4BC"/>
<rect x="318.40" y="360.38" width="4.05" height="4.58" fill="#A8B0E0"/>
<rect x="326.40" y="360.38" width="8.05" height="4.58" fill="#6A7FC8"/>
<rect x="338.40" y="360.38" width="4.05" height="4.58" fill="#22459F"/>
<rect x="346.40" y="360.38" width="4.05" height="4.58" fill="#A8B0E0"/>
<rect x="350.40" y="360.38" width="4.05" height="4.58" fill="#F2F0F8"/>
<rect x="290.40" y="364.91" width="12.05" height="4.58" fill="#DF222C"/>
<rect x="302.40" y="364.91" width="12.05" height="4.58" fill="#EA6670"/>
<rect x="314.40" y="364.91" width="4.05" height="4.58" fill="#F2F0F8"/>
<rect x="322.40" y="364.91" width="4.05" height="4.58" fill="#22459F"/>
<rect x="326.40" y="364.91" width="4.05" height="4.58" fill="#F2F0F8"/>
<rect x="330.40" y="364.91" width="4.05" height="4.58" fill="#A8B0E0"/>
<rect x="338.40" y="364.91" width="4.05" height="4.58" fill="#22459F"/>
<rect x="350.40" y="364.91" width="4.05" height="4.58" fill="#6A7FC8"/>
<rect x="290.40" y="369.44" width="4.05" height="4.58" fill="#F2B4BC"/>
<rect x="294.40" y="369.44" width="4.05" height="4.58" fill="#F2F0F8"/>
<rect x="298.40" y="369.44" width="4.05" height="4.58" fill="#DF222C"/>
<rect x="302.40" y="369.44" width="8.05" height="4.58" fill="#EA6670"/>
<rect x="310.40" y="369.44" width="4.05" height="4.58" fill="#F2B4BC"/>
<rect x="314.40" y="369.44" width="4.05" height="4.58" fill="#F2F0F8"/>
<rect x="318.40" y="369.44" width="4.05" height="4.58" fill="#6A7FC8"/>
<rect x="322.40" y="369.44" width="4.05" height="4.58" fill="#F2F0F8"/>
<rect x="338.40" y="369.44" width="16.05" height="4.58" fill="#6A7FC8"/>
<rect x="290.40" y="373.97" width="8.05" height="4.58" fill="#DF222C"/>
<rect x="298.40" y="373.97" width="4.05" height="4.58" fill="#EA6670"/>
<rect x="302.40" y="373.97" width="12.05" height="4.58" fill="#DF222C"/>
<rect x="322.40" y="373.97" width="4.05" height="4.58" fill="#22459F"/>
<rect x="326.40" y="373.97" width="8.05" height="4.58" fill="#F2F0F8"/>
<rect x="338.40" y="373.97" width="4.05" height="4.58" fill="#22459F"/>
<rect x="350.40" y="373.97" width="4.05" height="4.58" fill="#A8B0E0"/>
<rect x="290.40" y="378.50" width="4.05" height="4.58" fill="#DF222C"/>
<rect x="294.40" y="378.50" width="4.05" height="4.58" fill="#EA6670"/>
<rect x="298.40" y="378.50" width="12.05" height="4.58" fill="#A8B0E0"/>
<rect x="310.40" y="378.50" width="4.05" height="4.58" fill="#F2B4BC"/>
<rect x="314.40" y="378.50" width="4.05" height="4.58" fill="#F2F0F8"/>
<rect x="318.40" y="378.50" width="4.05" height="4.58" fill="#F2B4BC"/>
<rect x="326.40" y="378.50" width="4.05" height="4.58" fill="#A8B0E0"/>
<rect x="338.40" y="378.50" width="4.05" height="4.58" fill="#22459F"/>
<rect x="346.40" y="378.50" width="4.05" height="4.58" fill="#6A7FC8"/>
<rect x="290.40" y="383.04" width="4.05" height="4.58" fill="#F2B4BC"/>
<rect x="294.40" y="383.04" width="4.05" height="4.58" fill="#DF222C"/>
<rect x="298.40" y="383.04" width="4.05" height="4.58" fill="#F2B4BC"/>
<rect x="302.40" y="383.04" width="4.05" height="4.58" fill="#6A7FC8"/>
<rect x="306.40" y="383.04" width="4.05" height="4.58" fill="#A8B0E0"/>
<rect x="310.40" y="383.04" width="4.05" height="4.58" fill="#6A7FC8"/>
<rect x="314.40" y="383.04" width="4.05" height="4.58" fill="#DF222C"/>
<rect x="318.40" y="383.04" width="4.05" height="4.58" fill="#6A7FC8"/>
<rect x="326.40" y="383.04" width="8.05" height="4.58" fill="#6A7FC8"/>
<rect x="346.40" y="383.04" width="4.05" height="4.58" fill="#F2F0F8"/>
<rect x="290.40" y="387.57" width="4.05" height="4.58" fill="#F2B4BC"/>
<rect x="294.40" y="387.57" width="4.05" height="4.58" fill="#DF222C"/>
<rect x="298.40" y="387.57" width="4.05" height="4.58" fill="#F2F0F8"/>
<rect x="302.40" y="387.57" width="4.05" height="4.58" fill="#DF222C"/>
<rect x="306.40" y="387.57" width="4.05" height="4.58" fill="#A8B0E0"/>
<rect x="310.40" y="387.57" width="4.05" height="4.58" fill="#6A7FC8"/>
<rect x="314.40" y="387.57" width="4.05" height="4.58" fill="#A8B0E0"/>
<rect x="326.40" y="387.57" width="4.05" height="4.58" fill="#6A7FC8"/>
<rect x="330.40" y="387.57" width="4.05" height="4.58" fill="#F2B4BC"/>
<rect x="346.40" y="387.57" width="4.05" height="4.58" fill="#6A7FC8"/>
<rect x="290.40" y="392.10" width="4.05" height="4.58" fill="#DF222C"/>
<rect x="294.40" y="392.10" width="4.05" height="4.58" fill="#EA6670"/>
<rect x="298.40" y="392.10" width="4.05" height="4.58" fill="#F2B4BC"/>
<rect x="302.40" y="392.10" width="4.05" height="4.58" fill="#DF222C"/>
<rect x="306.40" y="392.10" width="4.05" height="4.58" fill="#F2F0F8"/>
<rect x="310.40" y="392.10" width="4.05" height="4.58" fill="#6A7FC8"/>
<rect x="326.40" y="392.10" width="8.05" height="4.58" fill="#6A7FC8"/>
<rect x="350.40" y="392.10" width="4.05" height="4.58" fill="#F2F0F8"/>
<rect x="290.40" y="396.63" width="8.05" height="4.58" fill="#DF222C"/>
<rect x="302.40" y="396.63" width="4.05" height="4.58" fill="#6A7FC8"/>
<rect x="306.40" y="396.63" width="4.05" height="4.58" fill="#A8B0E0"/>
<rect x="310.40" y="396.63" width="4.05" height="4.58" fill="#6A7FC8"/>
<rect x="314.40" y="396.63" width="4.05" height="4.58" fill="#DF222C"/>
<rect x="326.40" y="396.63" width="16.05" height="4.58" fill="#6A7FC8"/>
<rect x="290.40" y="401.16" width="8.05" height="4.58" fill="#DF222C"/>
<rect x="298.40" y="401.16" width="8.05" height="4.58" fill="#EA6670"/>
<rect x="306.40" y="401.16" width="12.05" height="4.58" fill="#DF222C"/>
<rect x="318.40" y="401.16" width="4.05" height="4.58" fill="#EA6670"/>
<rect x="322.40" y="401.16" width="4.05" height="4.58" fill="#6A7FC8"/>
<rect x="326.40" y="401.16" width="4.05" height="4.58" fill="#A8B0E0"/>
<rect x="330.40" y="401.16" width="4.05" height="4.58" fill="#F2F0F8"/>
<rect x="338.40" y="401.16" width="4.05" height="4.58" fill="#22459F"/>
<rect x="350.40" y="401.16" width="4.05" height="4.58" fill="#F2F0F8"/>
<rect x="290.40" y="405.70" width="4.05" height="4.58" fill="#DF222C"/>
<rect x="294.40" y="405.70" width="4.05" height="4.58" fill="#A8B0E0"/>
<rect x="298.40" y="405.70" width="4.05" height="4.58" fill="#F2F0F8"/>
<rect x="310.40" y="405.70" width="4.05" height="4.58" fill="#6A7FC8"/>
<rect x="318.40" y="405.70" width="4.05" height="4.58" fill="#F2F0F8"/>
<rect x="322.40" y="405.70" width="12.05" height="4.58" fill="#6A7FC8"/>
<rect x="338.40" y="405.70" width="4.05" height="4.58" fill="#22459F"/>
<rect x="290.40" y="410.23" width="4.05" height="4.58" fill="#A8B0E0"/>
<rect x="294.40" y="410.23" width="8.05" height="4.58" fill="#EA6670"/>
<rect x="302.40" y="410.23" width="4.05" height="4.58" fill="#F2F0F8"/>
<rect x="306.40" y="410.23" width="4.05" height="4.58" fill="#A8B0E0"/>
<rect x="310.40" y="410.23" width="8.05" height="4.58" fill="#6A7FC8"/>
<rect x="318.40" y="410.23" width="4.05" height="4.58" fill="#DF222C"/>
<rect x="326.40" y="410.23" width="8.05" height="4.58" fill="#6A7FC8"/>
<rect x="290.40" y="414.76" width="4.05" height="4.58" fill="#DF222C"/>
<rect x="294.40" y="414.76" width="4.05" height="4.58" fill="#F2B4BC"/>
<rect x="298.40" y="414.76" width="4.05" height="4.58" fill="#6A7FC8"/>
<rect x="302.40" y="414.76" width="8.05" height="4.58" fill="#A8B0E0"/>
<rect x="310.40" y="414.76" width="4.05" height="4.58" fill="#6A7FC8"/>
<rect x="314.40" y="414.76" width="4.05" height="4.58" fill="#EA6670"/>
<rect x="290.40" y="419.29" width="4.05" height="4.58" fill="#DF222C"/>
<rect x="294.40" y="419.29" width="4.05" height="4.58" fill="#EA6670"/>
<rect x="306.40" y="419.29" width="8.05" height="4.58" fill="#6A7FC8"/>
<rect x="318.40" y="419.29" width="4.05" height="4.58" fill="#F2F0F8"/>
<rect x="346.40" y="419.29" width="4.05" height="4.58" fill="#6A7FC8"/>
<rect x="290.40" y="423.82" width="4.05" height="4.58" fill="#DF222C"/>
<rect x="294.40" y="423.82" width="4.05" height="4.58" fill="#EA6670"/>
<rect x="302.40" y="423.82" width="12.05" height="4.58" fill="#6A7FC8"/>
<rect x="314.40" y="423.82" width="4.05" height="4.58" fill="#F2B4BC"/>
<rect x="318.40" y="423.82" width="4.05" height="4.58" fill="#6A7FC8"/>
<rect x="326.40" y="423.82" width="8.05" height="4.58" fill="#6A7FC8"/>
<rect x="346.40" y="423.82" width="4.05" height="4.58" fill="#22459F"/>
<rect x="290.40" y="428.36" width="4.05" height="4.58" fill="#DF222C"/>
<rect x="294.40" y="428.36" width="4.05" height="4.58" fill="#EA6670"/>
<rect x="298.40" y="428.36" width="4.05" height="4.58" fill="#A8B0E0"/>
<rect x="302.40" y="428.36" width="4.05" height="4.58" fill="#EA6670"/>
<rect x="306.40" y="428.36" width="4.05" height="4.58" fill="#F2B4BC"/>
<rect x="310.40" y="428.36" width="4.05" height="4.58" fill="#A8B0E0"/>
<rect x="314.40" y="428.36" width="4.05" height="4.58" fill="#6A7FC8"/>
<rect x="318.40" y="428.36" width="4.05" height="4.58" fill="#F2F0F8"/>
<rect x="326.40" y="428.36" width="8.05" height="4.58" fill="#A8B0E0"/>
<rect x="346.40" y="428.36" width="4.05" height="4.58" fill="#22459F"/>
<rect x="290.40" y="432.89" width="4.05" height="4.58" fill="#F2F0F8"/>
<rect x="294.40" y="432.89" width="4.05" height="4.58" fill="#F2B4BC"/>
<rect x="298.40" y="432.89" width="4.05" height="4.58" fill="#6A7FC8"/>
<rect x="306.40" y="432.89" width="8.05" height="4.58" fill="#6A7FC8"/>
<rect x="314.40" y="432.89" width="4.05" height="4.58" fill="#DF222C"/>
<rect x="318.40" y="432.89" width="4.05" height="4.58" fill="#F2B4BC"/>
<rect x="322.40" y="432.89" width="4.05" height="4.58" fill="#6A7FC8"/>
<rect x="290.40" y="437.42" width="4.05" height="4.58" fill="#F2B4BC"/>
<rect x="294.40" y="437.42" width="4.05" height="4.58" fill="#EA6670"/>
<rect x="298.40" y="437.42" width="12.05" height="4.58" fill="#6A7FC8"/>
<rect x="314.40" y="437.42" width="4.05" height="4.58" fill="#DF222C"/>
<rect x="318.40" y="437.42" width="8.05" height="4.58" fill="#6A7FC8"/>
<rect x="290.40" y="441.95" width="4.05" height="4.58" fill="#EA6670"/>
<rect x="294.40" y="441.95" width="4.05" height="4.58" fill="#F2F0F8"/>
<rect x="298.40" y="441.95" width="4.05" height="4.58" fill="#DF222C"/>
<rect x="302.40" y="441.95" width="4.05" height="4.58" fill="#6A7FC8"/>
<rect x="310.40" y="441.95" width="4.05" height="4.58" fill="#F2F0F8"/>
<rect x="314.40" y="441.95" width="4.05" height="4.58" fill="#6A7FC8"/>
<rect x="338.40" y="441.95" width="4.05" height="4.58" fill="#F2F0F8"/>
<rect x="290.40" y="446.48" width="4.05" height="4.58" fill="#DF222C"/>
<rect x="294.40" y="446.48" width="4.05" height="4.58" fill="#EA6670"/>
<rect x="298.40" y="446.48" width="4.05" height="4.58" fill="#DF222C"/>
<rect x="302.40" y="446.48" width="12.05" height="4.58" fill="#6A7FC8"/>
<rect x="314.40" y="446.48" width="4.05" height="4.58" fill="#A8B0E0"/>
<rect x="342.40" y="446.48" width="4.05" height="4.58" fill="#A8B0E0"/>
<rect x="290.40" y="451.02" width="8.05" height="4.58" fill="#DF222C"/>
<rect x="298.40" y="451.02" width="4.05" height="4.58" fill="#F2B4BC"/>
<rect x="302.40" y="451.02" width="20.05" height="4.58" fill="#EA6670"/>
<rect x="350.40" y="451.02" width="4.05" height="4.58" fill="#6A7FC8"/>
<rect x="290.40" y="455.55" width="8.05" height="4.58" fill="#DF222C"/>
<rect x="298.40" y="455.55" width="12.05" height="4.58" fill="#EA6670"/>
<rect x="310.40" y="455.55" width="8.05" height="4.58" fill="#6A7FC8"/>
<rect x="318.40" y="455.55" width="4.05" height="4.58" fill="#EA6670"/>
<rect x="330.40" y="455.55" width="4.05" height="4.58" fill="#F2B4BC"/>
<rect x="290.40" y="460.08" width="8.05" height="4.58" fill="#DF222C"/>
<rect x="298.40" y="460.08" width="4.05" height="4.58" fill="#EA6670"/>
<rect x="302.40" y="460.08" width="8.05" height="4.58" fill="#6A7FC8"/>
<rect x="314.40" y="460.08" width="4.05" height="4.58" fill="#6A7FC8"/>
<rect x="290.40" y="464.61" width="4.05" height="4.58" fill="#EA6670"/>
<rect x="294.40" y="464.61" width="4.05" height="4.58" fill="#DF222C"/>
<rect x="298.40" y="464.61" width="4.05" height="4.58" fill="#EA6670"/>
<rect x="302.40" y="464.61" width="8.05" height="4.58" fill="#6A7FC8"/>
<rect x="310.40" y="464.61" width="8.05" height="4.58" fill="#F2F0F8"/>
<rect x="350.40" y="464.61" width="4.05" height="4.58" fill="#F2F0F8"/>
<rect x="290.40" y="469.14" width="4.05" height="4.58" fill="#A8B0E0"/>
<rect x="294.40" y="469.14" width="4.05" height="4.58" fill="#6A7FC8"/>
<rect x="298.40" y="469.14" width="4.05" height="4.58" fill="#DF222C"/>
<rect x="302.40" y="469.14" width="4.05" height="4.58" fill="#6A7FC8"/>
<rect x="306.40" y="469.14" width="8.05" height="4.58" fill="#F2B4BC"/>
<rect x="314.40" y="469.14" width="4.05" height="4.58" fill="#F2F0F8"/>
<rect x="350.40" y="469.14" width="4.05" height="4.58" fill="#6A7FC8"/>
<rect x="290.40" y="473.68" width="8.05" height="4.58" fill="#DF222C"/>
<rect x="298.40" y="473.68" width="4.05" height="4.58" fill="#A8B0E0"/>
<rect x="302.40" y="473.68" width="4.05" height="4.58" fill="#F2F0F8"/>
<rect x="306.40" y="473.68" width="4.05" height="4.58" fill="#A8B0E0"/>
<rect x="310.40" y="473.68" width="4.05" height="4.58" fill="#F2F0F8"/>
<rect x="314.40" y="473.68" width="4.05" height="4.58" fill="#6A7FC8"/>
<rect x="350.40" y="473.68" width="4.05" height="4.58" fill="#F2F0F8"/>
<rect x="290.40" y="478.21" width="4.05" height="4.58" fill="#22459F"/>
<rect x="294.40" y="478.21" width="4.05" height="4.58" fill="#DF222C"/>
<rect x="302.40" y="478.21" width="4.05" height="4.58" fill="#F2F0F8"/>
<rect x="306.40" y="478.21" width="4.05" height="4.58" fill="#A8B0E0"/>
<rect x="310.40" y="478.21" width="4.05" height="4.58" fill="#6A7FC8"/>
<rect x="318.40" y="478.21" width="4.05" height="4.58" fill="#6A7FC8"/>
<rect x="290.40" y="482.74" width="4.05" height="4.58" fill="#F2F0F8"/>
<rect x="294.40" y="482.74" width="4.05" height="4.58" fill="#DF222C"/>
<rect x="306.40" y="482.74" width="4.05" height="4.58" fill="#6A7FC8"/>
<rect x="314.40" y="482.74" width="4.05" height="4.58" fill="#A8B0E0"/>
<rect x="318.40" y="482.74" width="4.05" height="4.58" fill="#F2F0F8"/>
<rect x="290.40" y="487.27" width="8.05" height="4.58" fill="#DF222C"/>
<rect x="298.40" y="487.27" width="4.05" height="4.58" fill="#F2B4BC"/>
<rect x="306.40" y="487.27" width="8.05" height="4.58" fill="#6A7FC8"/>
<rect x="314.40" y="487.27" width="4.05" height="4.58" fill="#F2F0F8"/>
<rect x="318.40" y="487.27" width="4.05" height="4.58" fill="#F2B4BC"/>
<rect x="290.40" y="491.80" width="4.05" height="4.58" fill="#DF222C"/>
<rect x="294.40" y="491.80" width="8.05" height="4.58" fill="#EA6670"/>
<rect x="302.40" y="491.80" width="4.05" height="4.58" fill="#F2B4BC"/>
<rect x="306.40" y="491.80" width="8.05" height="4.58" fill="#F2F0F8"/>
<rect x="290.40" y="496.34" width="8.05" height="4.58" fill="#DF222C"/>
<rect x="298.40" y="496.34" width="4.05" height="4.58" fill="#F2B4BC"/>
<rect x="302.40" y="496.34" width="4.05" height="4.58" fill="#6A7FC8"/>
<rect x="306.40" y="496.34" width="4.05" height="4.58" fill="#A8B0E0"/>
<rect x="314.40" y="496.34" width="4.05" height="4.58" fill="#F2F0F8"/>
<rect x="318.40" y="496.34" width="8.05" height="4.58" fill="#6A7FC8"/>
<rect x="350.40" y="496.34" width="4.05" height="4.58" fill="#6A7FC8"/>
<rect x="290.40" y="500.87" width="4.05" height="4.58" fill="#F2F0F8"/>
<rect x="294.40" y="500.87" width="4.05" height="4.58" fill="#EA6670"/>
<rect x="298.40" y="500.87" width="4.05" height="4.58" fill="#A8B0E0"/>
<rect x="302.40" y="500.87" width="8.05" height="4.58" fill="#F2F0F8"/>
<rect x="310.40" y="500.87" width="4.05" height="4.58" fill="#A8B0E0"/>
<rect x="314.40" y="500.87" width="4.05" height="4.58" fill="#DF222C"/>
<rect x="318.40" y="500.87" width="4.05" height="4.58" fill="#F2B4BC"/>
<rect x="290.40" y="505.40" width="8.05" height="4.58" fill="#DF222C"/>
<rect x="298.40" y="505.40" width="4.05" height="4.58" fill="#EA6670"/>
<rect x="302.40" y="505.40" width="4.05" height="4.58" fill="#F2B4BC"/>
<rect x="306.40" y="505.40" width="8.05" height="4.58" fill="#6A7FC8"/>
<rect x="330.40" y="505.40" width="4.05" height="4.58" fill="#F2B4BC"/>
<rect x="290.40" y="509.93" width="4.05" height="4.58" fill="#6A7FC8"/>
<rect x="294.40" y="509.93" width="4.05" height="4.58" fill="#DF222C"/>
<rect x="298.40" y="509.93" width="4.05" height="4.58" fill="#A8B0E0"/>
<rect x="302.40" y="509.93" width="4.05" height="4.58" fill="#22459F"/>
<rect x="310.40" y="509.93" width="4.05" height="4.58" fill="#6A7FC8"/>
<rect x="314.40" y="509.93" width="4.05" height="4.58" fill="#A8B0E0"/>
<rect x="318.40" y="509.93" width="4.05" height="4.58" fill="#DF222C"/>
<rect x="290.40" y="514.46" width="4.05" height="4.58" fill="#DF222C"/>
<rect x="294.40" y="514.46" width="8.05" height="4.58" fill="#EA6670"/>
<rect x="302.40" y="514.46" width="12.05" height="4.58" fill="#F2B4BC"/>
<rect x="314.40" y="514.46" width="4.05" height="4.58" fill="#6A7FC8"/>
<rect x="318.40" y="514.46" width="4.05" height="4.58" fill="#F2F0F8"/>
<rect x="330.40" y="514.46" width="4.05" height="4.58" fill="#6A7FC8"/>
<rect x="342.40" y="514.46" width="4.05" height="4.58" fill="#6A7FC8"/>
<rect x="290.40" y="519.00" width="4.05" height="4.58" fill="#F2B4BC"/>
<rect x="294.40" y="519.00" width="4.05" height="4.58" fill="#EA6670"/>
<rect x="298.40" y="519.00" width="4.05" height="4.58" fill="#F2B4BC"/>
<rect x="302.40" y="519.00" width="4.05" height="4.58" fill="#6A7FC8"/>
<rect x="290.40" y="523.53" width="4.05" height="4.58" fill="#A8B0E0"/>
<rect x="294.40" y="523.53" width="4.05" height="4.58" fill="#DF222C"/>
<rect x="298.40" y="523.53" width="4.05" height="4.58" fill="#6A7FC8"/>
<rect x="302.40" y="523.53" width="8.05" height="4.58" fill="#F2F0F8"/>
<rect x="290.40" y="528.06" width="8.05" height="4.58" fill="#DF222C"/>
<rect x="298.40" y="528.06" width="8.05" height="4.58" fill="#6A7FC8"/>
<rect x="306.40" y="528.06" width="4.05" height="4.58" fill="#A8B0E0"/>
<rect x="310.40" y="528.06" width="4.05" height="4.58" fill="#6A7FC8"/>
<rect x="314.40" y="528.06" width="4.05" height="4.58" fill="#F2B4BC"/>
<rect x="318.40" y="528.06" width="4.05" height="4.58" fill="#A8B0E0"/>
<rect x="294.40" y="532.59" width="4.05" height="4.58" fill="#DF222C"/>
<rect x="298.40" y="532.59" width="4.05" height="4.58" fill="#F2B4BC"/>
<rect x="306.40" y="532.59" width="4.05" height="4.58" fill="#6A7FC8"/>
<rect x="310.40" y="532.59" width="8.05" height="4.58" fill="#A8B0E0"/>
<rect x="318.40" y="532.59" width="4.05" height="4.58" fill="#6A7FC8"/>
<rect x="326.40" y="532.59" width="4.05" height="4.58" fill="#6A7FC8"/>
<rect x="290.40" y="537.12" width="8.05" height="4.58" fill="#DF222C"/>
<rect x="298.40" y="537.12" width="16.05" height="4.58" fill="#6A7FC8"/>
<rect x="290.40" y="541.66" width="4.05" height="4.58" fill="#F2F0F8"/>
<rect x="298.40" y="541.66" width="4.05" height="4.58" fill="#F2F0F8"/>
<rect x="318.40" y="541.66" width="4.05" height="4.58" fill="#DF222C"/>
<rect x="290.40" y="546.19" width="4.05" height="4.58" fill="#F2B4BC"/>
<rect x="294.40" y="546.19" width="4.05" height="4.58" fill="#EA6670"/>
<rect x="298.40" y="546.19" width="4.05" height="4.58" fill="#22459F"/>
<rect x="302.40" y="546.19" width="4.05" height="4.58" fill="#A8B0E0"/>
<rect x="290.40" y="550.72" width="4.05" height="4.58" fill="#F2F0F8"/>
<rect x="294.40" y="550.72" width="4.05" height="4.58" fill="#DF222C"/>
<rect x="298.40" y="550.72" width="4.05" height="4.58" fill="#F2B4BC"/>
<rect x="302.40" y="550.72" width="4.05" height="4.58" fill="#A8B0E0"/>
<rect x="306.40" y="550.72" width="4.05" height="4.58" fill="#6A7FC8"/>
<rect x="290.40" y="555.25" width="4.05" height="4.58" fill="#DF222C"/>
<rect x="294.40" y="555.25" width="4.05" height="4.58" fill="#F2B4BC"/>
<rect x="298.40" y="555.25" width="8.05" height="4.58" fill="#6A7FC8"/>
<rect x="314.40" y="555.25" width="4.05" height="4.58" fill="#EA6670"/>
<rect x="290.40" y="559.78" width="4.05" height="4.58" fill="#DF222C"/>
<rect x="294.40" y="559.78" width="4.05" height="4.58" fill="#EA6670"/>
<rect x="298.40" y="559.78" width="4.05" height="4.58" fill="#A8B0E0"/>
<rect x="314.40" y="559.78" width="4.05" height="4.58" fill="#F2F0F8"/>
<rect x="290.40" y="564.32" width="4.05" height="4.58" fill="#EA6670"/>
<rect x="294.40" y="564.32" width="4.05" height="4.58" fill="#DF222C"/>
<rect x="314.40" y="564.32" width="4.05" height="4.58" fill="#F2B4BC"/>
<rect x="290.40" y="568.85" width="4.05" height="4.58" fill="#DF222C"/>
<rect x="294.40" y="568.85" width="4.05" height="4.58" fill="#6A7FC8"/>
<rect x="298.40" y="568.85" width="4.05" height="4.58" fill="#EA6670"/>
<rect x="306.40" y="573.38" width="4.05" height="4.58" fill="#DF222C"/>
<rect x="310.40" y="573.38" width="4.05" height="4.58" fill="#A8B0E0"/>
<path d="M294.40 278.8V577.91M298.40 278.8V577.91M302.40 278.8V577.91M306.40 278.8V577.91M310.40 278.8V577.91M314.40 278.8V577.91M318.40 278.8V577.91M322.40 278.8V577.91M326.40 278.8V577.91M330.40 278.8V577.91M334.40 278.8V577.91M338.40 278.8V577.91M342.40 278.8V577.91M346.40 278.8V577.91M350.40 278.8V577.91M290.4 283.33H354.40M290.4 287.86H354.40M290.4 292.40H354.40M290.4 296.93H354.40M290.4 301.46H354.40M290.4 305.99H354.40M290.4 310.52H354.40M290.4 315.06H354.40M290.4 319.59H354.40M290.4 324.12H354.40M290.4 328.65H354.40M290.4 333.18H354.40M290.4 337.72H354.40M290.4 342.25H354.40M290.4 346.78H354.40M290.4 351.31H354.40M290.4 355.84H354.40M290.4 360.38H354.40M290.4 364.91H354.40M290.4 369.44H354.40M290.4 373.97H354.40M290.4 378.50H354.40M290.4 383.04H354.40M290.4 387.57H354.40M290.4 392.10H354.40M290.4 396.63H354.40M290.4 401.16H354.40M290.4 405.70H354.40M290.4 410.23H354.40M290.4 414.76H354.40M290.4 419.29H354.40M290.4 423.82H354.40M290.4 428.36H354.40M290.4 432.89H354.40M290.4 437.42H354.40M290.4 441.95H354.40M290.4 446.48H354.40M290.4 451.02H354.40M290.4 455.55H354.40M290.4 460.08H354.40M290.4 464.61H354.40M290.4 469.14H354.40M290.4 473.68H354.40M290.4 478.21H354.40M290.4 482.74H354.40M290.4 487.27H354.40M290.4 491.80H354.40M290.4 496.34H354.40M290.4 500.87H354.40M290.4 505.40H354.40M290.4 509.93H354.40M290.4 514.46H354.40M290.4 519.00H354.40M290.4 523.53H354.40M290.4 528.06H354.40M290.4 532.59H354.40M290.4 537.12H354.40M290.4 541.66H354.40M290.4 546.19H354.40M290.4 550.72H354.40M290.4 555.25H354.40M290.4 559.78H354.40M290.4 564.32H354.40M290.4 568.85H354.40M290.4 573.38H354.40" fill="none" stroke="#9AA8D8" stroke-opacity="0.4" stroke-width="0.45"/>
<text x="357.20" y="282.10" font-size="3.2" fill="#1a1a1a" stroke="#1a1a1a" stroke-width="0.12">Map2k6</text>
<text x="357.20" y="286.63" font-size="3.2" fill="#1a1a1a" stroke="#1a1a1a" stroke-width="0.12">Cab1</text>
<text x="357.20" y="291.16" font-size="3.2" fill="#1a1a1a" stroke="#1a1a1a" stroke-width="0.12">2600011O08Rik</text>
<text x="357.20" y="295.70" font-size="3.2" fill="#1a1a1a" stroke="#1a1a1a" stroke-width="0.12">Rab6b</text>
<text x="357.20" y="300.23" font-size="3.2" fill="#1a1a1a" stroke="#1a1a1a" stroke-width="0.12">Tmem136</text>
<text x="357.20" y="304.76" font-size="3.2" fill="#1a1a1a" stroke="#1a1a1a" stroke-width="0.12">Tagln3</text>
<text x="357.20" y="309.29" font-size="3.2" fill="#1a1a1a" stroke="#1a1a1a" stroke-width="0.12">Kif5a</text>
<text x="357.20" y="313.82" font-size="3.2" fill="#1a1a1a" stroke="#1a1a1a" stroke-width="0.12">Mtap1b</text>
<text x="357.20" y="318.36" font-size="3.2" fill="#1a1a1a" stroke="#1a1a1a" stroke-width="0.12">Abcc5</text>
<text x="357.20" y="322.89" font-size="3.2" fill="#1a1a1a" stroke="#1a1a1a" stroke-width="0.12">Fam129b</text>
<text x="357.20" y="327.42" font-size="3.2" fill="#1a1a1a" stroke="#1a1a1a" stroke-width="0.12">Gpr98</text>
<text x="357.20" y="331.95" font-size="3.2" fill="#1a1a1a" stroke="#1a1a1a" stroke-width="0.12">Mafk</text>
<text x="357.20" y="336.48" font-size="3.2" fill="#1a1a1a" stroke="#1a1a1a" stroke-width="0.12">5330417C22Rik</text>
<text x="357.20" y="341.02" font-size="3.2" fill="#1a1a1a" stroke="#1a1a1a" stroke-width="0.12">Crb3</text>
<text x="376.20" y="341.92" font-size="5.45" font-style="italic" fill="#444" stroke="#444">Crb3</text>
<text x="357.20" y="345.55" font-size="3.2" fill="#1a1a1a" stroke="#1a1a1a" stroke-width="0.12">AI428936</text>
<text x="357.20" y="350.08" font-size="3.2" fill="#1a1a1a" stroke="#1a1a1a" stroke-width="0.12">Cdh1</text>
<text x="376.20" y="350.98" font-size="5.45" font-style="italic" fill="#444" stroke="#444">Cdh1</text>
<text x="357.20" y="354.61" font-size="3.2" fill="#1a1a1a" stroke="#1a1a1a" stroke-width="0.12">Mboat27</text>
<text x="357.20" y="359.14" font-size="3.2" fill="#1a1a1a" stroke="#1a1a1a" stroke-width="0.12">Dll3</text>
<text x="357.20" y="363.68" font-size="3.2" fill="#1a1a1a" stroke="#1a1a1a" stroke-width="0.12">Arhgef16</text>
<text x="357.20" y="368.21" font-size="3.2" fill="#1a1a1a" stroke="#1a1a1a" stroke-width="0.12">Kcnq2</text>
<text x="357.20" y="372.74" font-size="3.2" fill="#1a1a1a" stroke="#1a1a1a" stroke-width="0.12">Tmem176</text>
<text x="357.20" y="377.27" font-size="3.2" fill="#1a1a1a" stroke="#1a1a1a" stroke-width="0.12">Tmem171</text>
<text x="357.20" y="381.80" font-size="3.2" fill="#1a1a1a" stroke="#1a1a1a" stroke-width="0.12">Ttbk1</text>
<text x="357.20" y="386.34" font-size="3.2" fill="#1a1a1a" stroke="#1a1a1a" stroke-width="0.12">Arrn</text>
<text x="357.20" y="390.87" font-size="3.2" fill="#1a1a1a" stroke="#1a1a1a" stroke-width="0.12">Hfatc11</text>
<text x="357.20" y="395.40" font-size="3.2" fill="#1a1a1a" stroke="#1a1a1a" stroke-width="0.12">Fut1</text>
<text x="357.20" y="399.93" font-size="3.2" fill="#1a1a1a" stroke="#1a1a1a" stroke-width="0.12">Tmsg1</text>
<text x="357.20" y="404.46" font-size="3.2" fill="#1a1a1a" stroke="#1a1a1a" stroke-width="0.12">Myh14</text>
<text x="357.20" y="409.00" font-size="3.2" fill="#1a1a1a" stroke="#1a1a1a" stroke-width="0.12">Tmhd13a</text>
<text x="357.20" y="413.53" font-size="3.2" fill="#1a1a1a" stroke="#1a1a1a" stroke-width="0.12">Sgsm1</text>
<text x="357.20" y="418.06" font-size="3.2" fill="#1a1a1a" stroke="#1a1a1a" stroke-width="0.12">Tmem184a</text>
<text x="357.20" y="422.59" font-size="3.2" fill="#1a1a1a" stroke="#1a1a1a" stroke-width="0.12">Rasgrf</text>
<text x="357.20" y="427.12" font-size="3.2" fill="#1a1a1a" stroke="#1a1a1a" stroke-width="0.12">Srcd20</text>
<text x="357.20" y="431.66" font-size="3.2" fill="#1a1a1a" stroke="#1a1a1a" stroke-width="0.12">Cmcke4</text>
<text x="357.20" y="436.19" font-size="3.2" fill="#1a1a1a" stroke="#1a1a1a" stroke-width="0.12">Ldhap1</text>
<text x="357.20" y="440.72" font-size="3.2" fill="#1a1a1a" stroke="#1a1a1a" stroke-width="0.12">Slc16a5</text>
<text x="357.20" y="445.25" font-size="3.2" fill="#1a1a1a" stroke="#1a1a1a" stroke-width="0.12">H2-T23</text>
<text x="357.20" y="449.78" font-size="3.2" fill="#1a1a1a" stroke="#1a1a1a" stroke-width="0.12">Resp18</text>
<text x="357.20" y="454.32" font-size="3.2" fill="#1a1a1a" stroke="#1a1a1a" stroke-width="0.12">Tjp3</text>
<text x="376.20" y="455.22" font-size="5.45" font-style="italic" fill="#444" stroke="#444">Tjp3</text>
<text x="357.20" y="458.85" font-size="3.2" fill="#1a1a1a" stroke="#1a1a1a" stroke-width="0.12">Dmpk</text>
<text x="357.20" y="463.38" font-size="3.2" fill="#1a1a1a" stroke="#1a1a1a" stroke-width="0.12">Sdc4</text>
<text x="376.20" y="464.28" font-size="5.45" font-style="italic" fill="#444" stroke="#444">Sdc4</text>
<text x="357.20" y="467.91" font-size="3.2" fill="#1a1a1a" stroke="#1a1a1a" stroke-width="0.12">Plk5</text>
<text x="357.20" y="472.44" font-size="3.2" fill="#1a1a1a" stroke="#1a1a1a" stroke-width="0.12">Tmem63a</text>
<text x="357.20" y="476.98" font-size="3.2" fill="#1a1a1a" stroke="#1a1a1a" stroke-width="0.12">Kcnh3</text>
<text x="357.20" y="481.51" font-size="3.2" fill="#1a1a1a" stroke="#1a1a1a" stroke-width="0.12">Rasgefb</text>
<text x="357.20" y="486.04" font-size="3.2" fill="#1a1a1a" stroke="#1a1a1a" stroke-width="0.12">Tst</text>
<text x="357.20" y="490.57" font-size="3.2" fill="#1a1a1a" stroke="#1a1a1a" stroke-width="0.12">Cldn3</text>
<text x="376.20" y="491.47" font-size="5.45" font-style="italic" fill="#444" stroke="#444">Cldn3</text>
<text x="357.20" y="495.10" font-size="3.2" fill="#1a1a1a" stroke="#1a1a1a" stroke-width="0.12">Sult2b1</text>
<text x="357.20" y="499.64" font-size="3.2" fill="#1a1a1a" stroke="#1a1a1a" stroke-width="0.12">Rup11</text>
<text x="357.20" y="504.17" font-size="3.2" fill="#1a1a1a" stroke="#1a1a1a" stroke-width="0.12">Zbtb42</text>
<text x="357.20" y="508.70" font-size="3.2" fill="#1a1a1a" stroke="#1a1a1a" stroke-width="0.12">Igfbp2</text>
<text x="357.20" y="513.23" font-size="3.2" fill="#1a1a1a" stroke="#1a1a1a" stroke-width="0.12">Tgif1</text>
<text x="357.20" y="517.76" font-size="3.2" fill="#1a1a1a" stroke="#1a1a1a" stroke-width="0.12">Ybx2</text>
<text x="357.20" y="522.30" font-size="3.2" fill="#1a1a1a" stroke="#1a1a1a" stroke-width="0.12">Tmem1</text>
<text x="357.20" y="526.83" font-size="3.2" fill="#1a1a1a" stroke="#1a1a1a" stroke-width="0.12">Cer1b</text>
<text x="357.20" y="531.36" font-size="3.2" fill="#1a1a1a" stroke="#1a1a1a" stroke-width="0.12">Pvrl3</text>
<text x="357.20" y="535.89" font-size="3.2" fill="#1a1a1a" stroke="#1a1a1a" stroke-width="0.12">Slc43a1</text>
<text x="357.20" y="540.42" font-size="3.2" fill="#1a1a1a" stroke="#1a1a1a" stroke-width="0.12">Acsps</text>
<text x="357.20" y="544.96" font-size="3.2" fill="#1a1a1a" stroke="#1a1a1a" stroke-width="0.12">Cldn6</text>
<text x="376.20" y="545.86" font-size="5.45" font-style="italic" fill="#444" stroke="#444">Cldn6</text>
<text x="357.20" y="549.49" font-size="3.2" fill="#1a1a1a" stroke="#1a1a1a" stroke-width="0.12">Gpx3</text>
<text x="357.20" y="554.02" font-size="3.2" fill="#1a1a1a" stroke="#1a1a1a" stroke-width="0.12">Dennd2d</text>
<text x="357.20" y="558.55" font-size="3.2" fill="#1a1a1a" stroke="#1a1a1a" stroke-width="0.12">Bcl2l14</text>
<text x="357.20" y="563.08" font-size="3.2" fill="#1a1a1a" stroke="#1a1a1a" stroke-width="0.12">Cldn9</text>
<text x="376.20" y="563.98" font-size="5.45" font-style="italic" fill="#444" stroke="#444">Cldn9</text>
<text x="357.20" y="567.62" font-size="3.2" fill="#1a1a1a" stroke="#1a1a1a" stroke-width="0.12">Sprdtc</text>
<text x="357.20" y="572.15" font-size="3.2" fill="#1a1a1a" stroke="#1a1a1a" stroke-width="0.12">Rspo4</text>
<text x="357.20" y="576.68" font-size="3.2" fill="#1a1a1a" stroke="#1a1a1a" stroke-width="0.12">Klk1</text>
<rect x="402.80" y="270.2" width="4.67" height="3.9" fill="#2F74A8" stroke="#8fa6b8" stroke-width="0.4"/>
<rect x="407.47" y="270.2" width="4.67" height="3.9" fill="#2F74A8" stroke="#8fa6b8" stroke-width="0.4"/>
<rect x="412.14" y="270.2" width="4.67" height="3.9" fill="#2F74A8" stroke="#8fa6b8" stroke-width="0.4"/>
<rect x="416.81" y="270.2" width="4.67" height="3.9" fill="#9DB8DD" stroke="#8fa6b8" stroke-width="0.4"/>
<rect x="421.48" y="270.2" width="4.67" height="3.9" fill="#9DB8DD" stroke="#8fa6b8" stroke-width="0.4"/>
<rect x="426.15" y="270.2" width="4.67" height="3.9" fill="#9DB8DD" stroke="#8fa6b8" stroke-width="0.4"/>
<text x="432.60" y="273.60" font-size="2.9" font-weight="bold" fill="#111" stroke="#111">id</text>
<rect x="402.8" y="278.8" width="28.02" height="299.11" fill="#2D55B4"/>
<rect x="402.80" y="278.80" width="14.06" height="4.58" fill="#22459F"/>
<rect x="416.81" y="278.80" width="4.72" height="4.58" fill="#6A7FC8"/>
<rect x="421.48" y="278.80" width="4.72" height="4.58" fill="#F2B4BC"/>
<rect x="426.15" y="278.80" width="4.72" height="4.58" fill="#DF222C"/>
<rect x="402.80" y="283.33" width="14.06" height="4.58" fill="#22459F"/>
<rect x="416.81" y="283.33" width="4.72" height="4.58" fill="#6A7FC8"/>
<rect x="421.48" y="283.33" width="4.72" height="4.58" fill="#F2F0F8"/>
<rect x="426.15" y="283.33" width="4.72" height="4.58" fill="#DF222C"/>
<rect x="402.80" y="287.86" width="4.72" height="4.58" fill="#22459F"/>
<rect x="416.81" y="287.86" width="4.72" height="4.58" fill="#F2F0F8"/>
<rect x="426.15" y="287.86" width="4.72" height="4.58" fill="#DF222C"/>
<rect x="402.80" y="292.40" width="4.72" height="4.58" fill="#F2F0F8"/>
<rect x="412.14" y="292.40" width="4.72" height="4.58" fill="#22459F"/>
<rect x="416.81" y="292.40" width="4.72" height="4.58" fill="#F2B4BC"/>
<rect x="426.15" y="292.40" width="4.72" height="4.58" fill="#DF222C"/>
<rect x="402.80" y="296.93" width="9.39" height="4.58" fill="#22459F"/>
<rect x="416.81" y="296.93" width="4.72" height="4.58" fill="#A8B0E0"/>
<rect x="426.15" y="296.93" width="4.72" height="4.58" fill="#DF222C"/>
<rect x="402.80" y="301.46" width="9.39" height="4.58" fill="#22459F"/>
<rect x="416.81" y="301.46" width="4.72" height="4.58" fill="#22459F"/>
<rect x="421.48" y="301.46" width="4.72" height="4.58" fill="#F2F0F8"/>
<rect x="426.15" y="301.46" width="4.72" height="4.58" fill="#DF222C"/>
<rect x="402.80" y="305.99" width="14.06" height="4.58" fill="#22459F"/>
<rect x="416.81" y="305.99" width="9.39" height="4.58" fill="#DF222C"/>
<rect x="426.15" y="305.99" width="4.72" height="4.58" fill="#EA6670"/>
<rect x="402.80" y="310.52" width="14.06" height="4.58" fill="#22459F"/>
<rect x="416.81" y="310.52" width="9.39" height="4.58" fill="#F2B4BC"/>
<rect x="426.15" y="310.52" width="4.72" height="4.58" fill="#DF222C"/>
<rect x="402.80" y="315.06" width="14.06" height="4.58" fill="#22459F"/>
<rect x="416.81" y="315.06" width="4.72" height="4.58" fill="#F2B4BC"/>
<rect x="421.48" y="315.06" width="9.39" height="4.58" fill="#DF222C"/>
<rect x="402.80" y="319.59" width="4.72" height="4.58" fill="#F2B4BC"/>
<rect x="407.47" y="319.59" width="9.39" height="4.58" fill="#DF222C"/>
<rect x="416.81" y="319.59" width="4.72" height="4.58" fill="#F2B4BC"/>
<rect x="421.48" y="319.59" width="4.72" height="4.58" fill="#A8B0E0"/>
<rect x="402.80" y="324.12" width="4.72" height="4.58" fill="#DF222C"/>
<rect x="407.47" y="324.12" width="4.72" height="4.58" fill="#EA6670"/>
<rect x="412.14" y="324.12" width="9.39" height="4.58" fill="#6A7FC8"/>
<rect x="402.80" y="328.65" width="9.39" height="4.58" fill="#DF222C"/>
<rect x="412.14" y="328.65" width="4.72" height="4.58" fill="#EA6670"/>
<rect x="416.81" y="328.65" width="4.72" height="4.58" fill="#F2B4BC"/>
<rect x="421.48" y="328.65" width="4.72" height="4.58" fill="#6A7FC8"/>
<rect x="402.80" y="333.18" width="4.72" height="4.58" fill="#DF222C"/>
<rect x="407.47" y="333.18" width="4.72" height="4.58" fill="#EA6670"/>
<rect x="412.14" y="333.18" width="4.72" height="4.58" fill="#DF222C"/>
<rect x="416.81" y="333.18" width="4.72" height="4.58" fill="#F2F0F8"/>
<rect x="426.15" y="333.18" width="4.72" height="4.58" fill="#F2F0F8"/>
<rect x="402.80" y="337.72" width="9.39" height="4.58" fill="#DF222C"/>
<rect x="412.14" y="337.72" width="4.72" height="4.58" fill="#F2F0F8"/>
<rect x="421.48" y="337.72" width="4.72" height="4.58" fill="#6A7FC8"/>
<rect x="402.80" y="342.25" width="9.39" height="4.58" fill="#DF222C"/>
<rect x="412.14" y="342.25" width="4.72" height="4.58" fill="#F2F0F8"/>
<rect x="402.80" y="346.78" width="4.72" height="4.58" fill="#DF222C"/>
<rect x="407.47" y="346.78" width="9.39" height="4.58" fill="#EA6670"/>
<rect x="416.81" y="346.78" width="4.72" height="4.58" fill="#F2F0F8"/>
<rect x="426.15" y="346.78" width="4.72" height="4.58" fill="#EA6670"/>
<rect x="402.80" y="351.31" width="9.39" height="4.58" fill="#DF222C"/>
<rect x="412.14" y="351.31" width="4.72" height="4.58" fill="#F2B4BC"/>
<rect x="416.81" y="351.31" width="4.72" height="4.58" fill="#6A7FC8"/>
<rect x="402.80" y="355.84" width="4.72" height="4.58" fill="#DF222C"/>
<rect x="407.47" y="355.84" width="4.72" height="4.58" fill="#EA6670"/>
<rect x="412.14" y="355.84" width="4.72" height="4.58" fill="#6A7FC8"/>
<rect x="416.81" y="355.84" width="4.72" height="4.58" fill="#F2F0F8"/>
<rect x="426.15" y="355.84" width="4.72" height="4.58" fill="#F2F0F8"/>
<rect x="402.80" y="360.38" width="9.39" height="4.58" fill="#DF222C"/>
<rect x="412.14" y="360.38" width="4.72" height="4.58" fill="#F2B4BC"/>
<rect x="416.81" y="360.38" width="4.72" height="4.58" fill="#A8B0E0"/>
<rect x="426.15" y="360.38" width="4.72" height="4.58" fill="#F2F0F8"/>
<rect x="402.80" y="364.91" width="9.39" height="4.58" fill="#DF222C"/>
<rect x="412.14" y="364.91" width="4.72" height="4.58" fill="#EA6670"/>
<rect x="402.80" y="369.44" width="4.72" height="4.58" fill="#DF222C"/>
<rect x="407.47" y="369.44" width="9.39" height="4.58" fill="#EA6670"/>
<rect x="416.81" y="369.44" width="4.72" height="4.58" fill="#6A7FC8"/>
<rect x="402.80" y="373.97" width="4.72" height="4.58" fill="#DF222C"/>
<rect x="407.47" y="373.97" width="4.72" height="4.58" fill="#EA6670"/>
<rect x="412.14" y="373.97" width="4.72" height="4.58" fill="#6A7FC8"/>
<rect x="416.81" y="373.97" width="4.72" height="4.58" fill="#A8B0E0"/>
<rect x="402.80" y="378.50" width="9.39" height="4.58" fill="#DF222C"/>
<rect x="412.14" y="378.50" width="4.72" height="4.58" fill="#F2B4BC"/>
<rect x="416.81" y="378.50" width="9.39" height="4.58" fill="#6A7FC8"/>
<rect x="402.80" y="383.04" width="4.72" height="4.58" fill="#F2B4BC"/>
<rect x="407.47" y="383.04" width="4.72" height="4.58" fill="#EA6670"/>
<rect x="412.14" y="383.04" width="4.72" height="4.58" fill="#DF222C"/>
<rect x="416.81" y="383.04" width="4.72" height="4.58" fill="#A8B0E0"/>
<rect x="426.15" y="383.04" width="4.72" height="4.58" fill="#F2B4BC"/>
<rect x="402.80" y="387.57" width="4.72" height="4.58" fill="#DF222C"/>
<rect x="407.47" y="387.57" width="4.72" height="4.58" fill="#F2B4BC"/>
<rect x="412.14" y="387.57" width="4.72" height="4.58" fill="#F2F0F8"/>
<rect x="416.81" y="387.57" width="4.72" height="4.58" fill="#A8B0E0"/>
<rect x="426.15" y="387.57" width="4.72" height="4.58" fill="#A8B0E0"/>
<rect x="402.80" y="392.10" width="9.39" height="4.58" fill="#DF222C"/>
<rect x="412.14" y="392.10" width="4.72" height="4.58" fill="#EA6670"/>
<rect x="416.81" y="392.10" width="4.72" height="4.58" fill="#F2F0F8"/>
<rect x="421.48" y="392.10" width="4.72" height="4.58" fill="#A8B0E0"/>
<rect x="402.80" y="396.63" width="4.72" height="4.58" fill="#DF222C"/>
<rect x="407.47" y="396.63" width="4.72" height="4.58" fill="#F2B4BC"/>
<rect x="412.14" y="396.63" width="4.72" height="4.58" fill="#F2F0F8"/>
<rect x="416.81" y="396.63" width="4.72" height="4.58" fill="#F2B4BC"/>
<rect x="426.15" y="396.63" width="4.72" height="4.58" fill="#F2F0F8"/>
<rect x="402.80" y="401.16" width="14.06" height="4.58" fill="#DF222C"/>
<rect x="416.81" y="401.16" width="9.39" height="4.58" fill="#6A7FC8"/>
<rect x="402.80" y="405.70" width="14.06" height="4.58" fill="#DF222C"/>
<rect x="416.81" y="405.70" width="4.72" height="4.58" fill="#F2B4BC"/>
<rect x="426.15" y="405.70" width="4.72" height="4.58" fill="#F2B4BC"/>
<rect x="402.80" y="410.23" width="9.39" height="4.58" fill="#DF222C"/>
<rect x="412.14" y="410.23" width="4.72" height="4.58" fill="#EA6670"/>
<rect x="421.48" y="410.23" width="4.72" height="4.58" fill="#6A7FC8"/>
<rect x="402.80" y="414.76" width="4.72" height="4.58" fill="#DF222C"/>
<rect x="407.47" y="414.76" width="4.72" height="4.58" fill="#EA6670"/>
<rect x="412.14" y="414.76" width="4.72" height="4.58" fill="#F2B4BC"/>
<rect x="402.80" y="419.29" width="4.72" height="4.58" fill="#F2B4BC"/>
<rect x="407.47" y="419.29" width="4.72" height="4.58" fill="#DF222C"/>
<rect x="412.14" y="419.29" width="4.72" height="4.58" fill="#EA6670"/>
<rect x="416.81" y="419.29" width="4.72" height="4.58" fill="#6A7FC8"/>
<rect x="402.80" y="423.82" width="4.72" height="4.58" fill="#6A7FC8"/>
<rect x="407.47" y="423.82" width="4.72" height="4.58" fill="#F2F0F8"/>
<rect x="412.14" y="423.82" width="4.72" height="4.58" fill="#DF222C"/>
<rect x="402.80" y="428.36" width="4.72" height="4.58" fill="#DF222C"/>
<rect x="407.47" y="428.36" width="4.72" height="4.58" fill="#EA6670"/>
<rect x="412.14" y="428.36" width="4.72" height="4.58" fill="#6A7FC8"/>
<rect x="416.81" y="428.36" width="4.72" height="4.58" fill="#F2F0F8"/>
<rect x="402.80" y="432.89" width="4.72" height="4.58" fill="#EA6670"/>
<rect x="407.47" y="432.89" width="9.39" height="4.58" fill="#DF222C"/>
<rect x="421.48" y="432.89" width="4.72" height="4.58" fill="#A8B0E0"/>
<rect x="426.15" y="432.89" width="4.72" height="4.58" fill="#6A7FC8"/>
<rect x="402.80" y="437.42" width="14.06" height="4.58" fill="#DF222C"/>
<rect x="416.81" y="437.42" width="4.72" height="4.58" fill="#F2F0F8"/>
<rect x="426.15" y="437.42" width="4.72" height="4.58" fill="#A8B0E0"/>
<rect x="402.80" y="441.95" width="4.72" height="4.58" fill="#EA6670"/>
<rect x="407.47" y="441.95" width="9.39" height="4.58" fill="#DF222C"/>
<rect x="426.15" y="441.95" width="4.72" height="4.58" fill="#F2B4BC"/>
<rect x="402.80" y="446.48" width="4.72" height="4.58" fill="#EA6670"/>
<rect x="407.47" y="446.48" width="9.39" height="4.58" fill="#DF222C"/>
<rect x="416.81" y="446.48" width="4.72" height="4.58" fill="#6A7FC8"/>
<rect x="402.80" y="451.02" width="4.72" height="4.58" fill="#DF222C"/>
<rect x="407.47" y="451.02" width="4.72" height="4.58" fill="#EA6670"/>
<rect x="412.14" y="451.02" width="4.72" height="4.58" fill="#A8B0E0"/>
<rect x="426.15" y="451.02" width="4.72" height="4.58" fill="#6A7FC8"/>
<rect x="402.80" y="455.55" width="9.39" height="4.58" fill="#DF222C"/>
<rect x="412.14" y="455.55" width="4.72" height="4.58" fill="#F2B4BC"/>
<rect x="421.48" y="455.55" width="9.39" height="4.58" fill="#6A7FC8"/>
<rect x="402.80" y="460.08" width="14.06" height="4.58" fill="#DF222C"/>
<rect x="421.48" y="460.08" width="9.39" height="4.58" fill="#6A7FC8"/>
<rect x="402.80" y="464.61" width="9.39" height="4.58" fill="#DF222C"/>
<rect x="412.14" y="464.61" width="4.72" height="4.58" fill="#F2B4BC"/>
<rect x="421.48" y="464.61" width="4.72" height="4.58" fill="#6A7FC8"/>
<rect x="402.80" y="469.14" width="9.39" height="4.58" fill="#DF222C"/>
<rect x="412.14" y="469.14" width="4.72" height="4.58" fill="#EA6670"/>
<rect x="421.48" y="469.14" width="4.72" height="4.58" fill="#6A7FC8"/>
<rect x="402.80" y="473.68" width="9.39" height="4.58" fill="#DF222C"/>
<rect x="412.14" y="473.68" width="4.72" height="4.58" fill="#EA6670"/>
<rect x="416.81" y="473.68" width="4.72" height="4.58" fill="#6A7FC8"/>
<rect x="421.48" y="473.68" width="4.72" height="4.58" fill="#22459F"/>
<rect x="426.15" y="473.68" width="4.72" height="4.58" fill="#A8B0E0"/>
<rect x="402.80" y="478.21" width="4.72" height="4.58" fill="#DF222C"/>
<rect x="407.47" y="478.21" width="4.72" height="4.58" fill="#EA6670"/>
<rect x="412.14" y="478.21" width="4.72" height="4.58" fill="#F2B4BC"/>
<rect x="416.81" y="478.21" width="4.72" height="4.58" fill="#6A7FC8"/>
<rect x="402.80" y="482.74" width="4.72" height="4.58" fill="#EA6670"/>
<rect x="407.47" y="482.74" width="4.72" height="4.58" fill="#DF222C"/>
<rect x="412.14" y="482.74" width="4.72" height="4.58" fill="#F2B4BC"/>
<rect x="426.15" y="482.74" width="4.72" height="4.58" fill="#6A7FC8"/>
<rect x="402.80" y="487.27" width="4.72" height="4.58" fill="#DF222C"/>
<rect x="407.47" y="487.27" width="4.72" height="4.58" fill="#EA6670"/>
<rect x="412.14" y="487.27" width="4.72" height="4.58" fill="#F2B4BC"/>
<rect x="416.81" y="487.27" width="4.72" height="4.58" fill="#6A7FC8"/>
<rect x="426.15" y="487.27" width="4.72" height="4.58" fill="#6A7FC8"/>
<rect x="402.80" y="491.80" width="4.72" height="4.58" fill="#DF222C"/>
<rect x="407.47" y="491.80" width="4.72" height="4.58" fill="#EA6670"/>
<rect x="412.14" y="491.80" width="4.72" height="4.58" fill="#F2B4BC"/>
<rect x="416.81" y="491.80" width="4.72" height="4.58" fill="#6A7FC8"/>
<rect x="402.80" y="496.34" width="4.72" height="4.58" fill="#DF222C"/>
<rect x="407.47" y="496.34" width="4.72" height="4.58" fill="#F2B4BC"/>
<rect x="412.14" y="496.34" width="4.72" height="4.58" fill="#F2F0F8"/>
<rect x="416.81" y="496.34" width="4.72" height="4.58" fill="#6A7FC8"/>
<rect x="426.15" y="496.34" width="4.72" height="4.58" fill="#6A7FC8"/>
<rect x="402.80" y="500.87" width="14.06" height="4.58" fill="#DF222C"/>
<rect x="416.81" y="500.87" width="4.72" height="4.58" fill="#6A7FC8"/>
<rect x="426.15" y="500.87" width="4.72" height="4.58" fill="#F2F0F8"/>
<rect x="402.80" y="505.40" width="4.72" height="4.58" fill="#DF222C"/>
<rect x="407.47" y="505.40" width="9.39" height="4.58" fill="#F2B4BC"/>
<rect x="421.48" y="505.40" width="4.72" height="4.58" fill="#A8B0E0"/>
<rect x="402.80" y="509.93" width="4.72" height="4.58" fill="#DF222C"/>
<rect x="407.47" y="509.93" width="4.72" height="4.58" fill="#EA6670"/>
<rect x="412.14" y="509.93" width="4.72" height="4.58" fill="#DF222C"/>
<rect x="426.15" y="509.93" width="4.72" height="4.58" fill="#6A7FC8"/>
<rect x="402.80" y="514.46" width="14.06" height="4.58" fill="#DF222C"/>
<rect x="402.80" y="519.00" width="4.72" height="4.58" fill="#EA6670"/>
<rect x="407.47" y="519.00" width="9.39" height="4.58" fill="#DF222C"/>
<rect x="402.80" y="523.53" width="14.06" height="4.58" fill="#DF222C"/>
<rect x="416.81" y="523.53" width="4.72" height="4.58" fill="#6A7FC8"/>
<rect x="402.80" y="528.06" width="4.72" height="4.58" fill="#F2F0F8"/>
<rect x="407.47" y="528.06" width="4.72" height="4.58" fill="#F2B4BC"/>
<rect x="412.14" y="528.06" width="4.72" height="4.58" fill="#DF222C"/>
<rect x="426.15" y="528.06" width="4.72" height="4.58" fill="#A8B0E0"/>
<rect x="402.80" y="532.59" width="9.39" height="4.58" fill="#DF222C"/>
<rect x="412.14" y="532.59" width="4.72" height="4.58" fill="#F2B4BC"/>
<rect x="426.15" y="532.59" width="4.72" height="4.58" fill="#F2B4BC"/>
<rect x="402.80" y="537.12" width="4.72" height="4.58" fill="#DF222C"/>
<rect x="407.47" y="537.12" width="4.72" height="4.58" fill="#EA6670"/>
<rect x="412.14" y="537.12" width="4.72" height="4.58" fill="#DF222C"/>
<rect x="402.80" y="541.66" width="4.72" height="4.58" fill="#DF222C"/>
<rect x="407.47" y="541.66" width="4.72" height="4.58" fill="#EA6670"/>
<rect x="412.14" y="541.66" width="4.72" height="4.58" fill="#F2F0F8"/>
<rect x="402.80" y="546.19" width="4.72" height="4.58" fill="#DF222C"/>
<rect x="407.47" y="546.19" width="9.39" height="4.58" fill="#EA6670"/>
<rect x="416.81" y="546.19" width="4.72" height="4.58" fill="#6A7FC8"/>
<rect x="426.15" y="546.19" width="4.72" height="4.58" fill="#22459F"/>
<rect x="402.80" y="550.72" width="4.72" height="4.58" fill="#DF222C"/>
<rect x="407.47" y="550.72" width="4.72" height="4.58" fill="#EA6670"/>
<rect x="412.14" y="550.72" width="4.72" height="4.58" fill="#F2B4BC"/>
<rect x="416.81" y="550.72" width="4.72" height="4.58" fill="#6A7FC8"/>
<rect x="426.15" y="550.72" width="4.72" height="4.58" fill="#6A7FC8"/>
<rect x="402.80" y="555.25" width="9.39" height="4.58" fill="#DF222C"/>
<rect x="412.14" y="555.25" width="4.72" height="4.58" fill="#EA6670"/>
<rect x="402.80" y="559.78" width="4.72" height="4.58" fill="#F2B4BC"/>
<rect x="407.47" y="559.78" width="4.72" height="4.58" fill="#DF222C"/>
<rect x="412.14" y="559.78" width="4.72" height="4.58" fill="#F2F0F8"/>
<rect x="402.80" y="564.32" width="4.72" height="4.58" fill="#F2B4BC"/>
<rect x="407.47" y="564.32" width="4.72" height="4.58" fill="#EA6670"/>
<rect x="412.14" y="564.32" width="4.72" height="4.58" fill="#DF222C"/>
<rect x="402.80" y="568.85" width="4.72" height="4.58" fill="#DF222C"/>
<rect x="407.47" y="568.85" width="4.72" height="4.58" fill="#EA6670"/>
<rect x="412.14" y="568.85" width="4.72" height="4.58" fill="#F2B4BC"/>
<rect x="402.80" y="573.38" width="4.72" height="4.58" fill="#DF222C"/>
<rect x="407.47" y="573.38" width="4.72" height="4.58" fill="#EA6670"/>
<rect x="412.14" y="573.38" width="4.72" height="4.58" fill="#A8B0E0"/>
<path d="M407.47 278.8V577.91M412.14 278.8V577.91M416.81 278.8V577.91M421.48 278.8V577.91M426.15 278.8V577.91M402.8 283.33H430.82M402.8 287.86H430.82M402.8 292.40H430.82M402.8 296.93H430.82M402.8 301.46H430.82M402.8 305.99H430.82M402.8 310.52H430.82M402.8 315.06H430.82M402.8 319.59H430.82M402.8 324.12H430.82M402.8 328.65H430.82M402.8 333.18H430.82M402.8 337.72H430.82M402.8 342.25H430.82M402.8 346.78H430.82M402.8 351.31H430.82M402.8 355.84H430.82M402.8 360.38H430.82M402.8 364.91H430.82M402.8 369.44H430.82M402.8 373.97H430.82M402.8 378.50H430.82M402.8 383.04H430.82M402.8 387.57H430.82M402.8 392.10H430.82M402.8 396.63H430.82M402.8 401.16H430.82M402.8 405.70H430.82M402.8 410.23H430.82M402.8 414.76H430.82M402.8 419.29H430.82M402.8 423.82H430.82M402.8 428.36H430.82M402.8 432.89H430.82M402.8 437.42H430.82M402.8 441.95H430.82M402.8 446.48H430.82M402.8 451.02H430.82M402.8 455.55H430.82M402.8 460.08H430.82M402.8 464.61H430.82M402.8 469.14H430.82M402.8 473.68H430.82M402.8 478.21H430.82M402.8 482.74H430.82M402.8 487.27H430.82M402.8 491.80H430.82M402.8 496.34H430.82M402.8 500.87H430.82M402.8 505.40H430.82M402.8 509.93H430.82M402.8 514.46H430.82M402.8 519.00H430.82M402.8 523.53H430.82M402.8 528.06H430.82M402.8 532.59H430.82M402.8 537.12H430.82M402.8 541.66H430.82M402.8 546.19H430.82M402.8 550.72H430.82M402.8 555.25H430.82M402.8 559.78H430.82M402.8 564.32H430.82M402.8 568.85H430.82M402.8 573.38H430.82" fill="none" stroke="#9AA8D8" stroke-opacity="0.4" stroke-width="0.45"/>
<text x="432.60" y="282.10" font-size="3.2" fill="#1a1a1a" stroke="#1a1a1a" stroke-width="0.12">Tmem136</text>
<text x="432.60" y="286.63" font-size="3.2" fill="#1a1a1a" stroke="#1a1a1a" stroke-width="0.12">Rab6b</text>
<text x="432.60" y="291.16" font-size="3.2" fill="#1a1a1a" stroke="#1a1a1a" stroke-width="0.12">2600011O08Rik</text>
<text x="432.60" y="295.70" font-size="3.2" fill="#1a1a1a" stroke="#1a1a1a" stroke-width="0.12">Cab1</text>
<text x="432.60" y="300.23" font-size="3.2" fill="#1a1a1a" stroke="#1a1a1a" stroke-width="0.12">Map2k6</text>
<text x="432.60" y="304.76" font-size="3.2" fill="#1a1a1a" stroke="#1a1a1a" stroke-width="0.12">Mtap1b</text>
<text x="432.60" y="309.29" font-size="3.2" fill="#1a1a1a" stroke="#1a1a1a" stroke-width="0.12">Abcc5</text>
<text x="432.60" y="313.82" font-size="3.2" fill="#1a1a1a" stroke="#1a1a1a" stroke-width="0.12">Tagln3</text>
<text x="432.60" y="318.36" font-size="3.2" fill="#1a1a1a" stroke="#1a1a1a" stroke-width="0.12">Kif5a</text>
<text x="432.60" y="322.89" font-size="3.2" fill="#1a1a1a" stroke="#1a1a1a" stroke-width="0.12">Tmem171</text>
<text x="432.60" y="327.42" font-size="3.2" fill="#1a1a1a" stroke="#1a1a1a" stroke-width="0.12">Plk5</text>
<text x="432.60" y="331.95" font-size="3.2" fill="#1a1a1a" stroke="#1a1a1a" stroke-width="0.12">Gpr98</text>
<text x="432.60" y="336.48" font-size="3.2" fill="#1a1a1a" stroke="#1a1a1a" stroke-width="0.12">Tmem63a</text>
<text x="432.60" y="341.02" font-size="3.2" fill="#1a1a1a" stroke="#1a1a1a" stroke-width="0.12">Fam129b</text>
<text x="432.60" y="345.55" font-size="3.2" fill="#1a1a1a" stroke="#1a1a1a" stroke-width="0.12">Ldhap1</text>
<text x="432.60" y="350.08" font-size="3.2" fill="#1a1a1a" stroke="#1a1a1a" stroke-width="0.12">Cmcke4</text>
<text x="432.60" y="354.61" font-size="3.2" fill="#1a1a1a" stroke="#1a1a1a" stroke-width="0.12">Arrn</text>
<text x="432.60" y="359.14" font-size="3.2" fill="#1a1a1a" stroke="#1a1a1a" stroke-width="0.12">Gpx3</text>
<text x="432.60" y="363.68" font-size="3.2" fill="#1a1a1a" stroke="#1a1a1a" stroke-width="0.12">5330417C22Rik</text>
<text x="432.60" y="368.21" font-size="3.2" fill="#1a1a1a" stroke="#1a1a1a" stroke-width="0.12">Mafk</text>
<text x="432.60" y="372.74" font-size="3.2" fill="#1a1a1a" stroke="#1a1a1a" stroke-width="0.12">Dll3</text>
<text x="432.60" y="377.27" font-size="3.2" fill="#1a1a1a" stroke="#1a1a1a" stroke-width="0.12">Kcnq2</text>
<text x="432.60" y="381.80" font-size="3.2" fill="#1a1a1a" stroke="#1a1a1a" stroke-width="0.12">Ttbk1</text>
<text x="432.60" y="386.34" font-size="3.2" fill="#1a1a1a" stroke="#1a1a1a" stroke-width="0.12">Resp18</text>
<text x="432.60" y="390.87" font-size="3.2" fill="#1a1a1a" stroke="#1a1a1a" stroke-width="0.12">H2-T23</text>
<text x="432.60" y="395.40" font-size="3.2" fill="#1a1a1a" stroke="#1a1a1a" stroke-width="0.12">Slc43a1</text>
<text x="432.60" y="399.93" font-size="3.2" fill="#1a1a1a" stroke="#1a1a1a" stroke-width="0.12">Igfbp2</text>
<text x="432.60" y="404.46" font-size="3.2" fill="#1a1a1a" stroke="#1a1a1a" stroke-width="0.12">Srcd20</text>
<text x="432.60" y="409.00" font-size="3.2" fill="#1a1a1a" stroke="#1a1a1a" stroke-width="0.12">Tmem176</text>
<text x="432.60" y="413.53" font-size="3.2" fill="#1a1a1a" stroke="#1a1a1a" stroke-width="0.12">Tmhd13a</text>
<text x="432.60" y="418.06" font-size="3.2" fill="#1a1a1a" stroke="#1a1a1a" stroke-width="0.12">Kcnh3</text>
<text x="432.60" y="422.59" font-size="3.2" fill="#1a1a1a" stroke="#1a1a1a" stroke-width="0.12">Slc16a5</text>
<text x="432.60" y="427.12" font-size="3.2" fill="#1a1a1a" stroke="#1a1a1a" stroke-width="0.12">Fut1</text>
<text x="432.60" y="431.66" font-size="3.2" fill="#1a1a1a" stroke="#1a1a1a" stroke-width="0.12">Mboat27</text>
<text x="432.60" y="436.19" font-size="3.2" fill="#1a1a1a" stroke="#1a1a1a" stroke-width="0.12">Rasgrf</text>
<text x="432.60" y="440.72" font-size="3.2" fill="#1a1a1a" stroke="#1a1a1a" stroke-width="0.12">Hfatc11</text>
<text x="432.60" y="445.25" font-size="3.2" fill="#1a1a1a" stroke="#1a1a1a" stroke-width="0.12">Acsps</text>
<text x="432.60" y="449.78" font-size="3.2" fill="#1a1a1a" stroke="#1a1a1a" stroke-width="0.12">Sult2b1</text>
<text x="432.60" y="454.32" font-size="3.2" fill="#1a1a1a" stroke="#1a1a1a" stroke-width="0.12">Dmpk</text>
<text x="432.60" y="458.85" font-size="3.2" fill="#1a1a1a" stroke="#1a1a1a" stroke-width="0.12">Sdc4</text>
<text x="451.60" y="459.75" font-size="5.45" font-style="italic" fill="#444" stroke="#444">Sdc4</text>
<text x="432.60" y="463.38" font-size="3.2" fill="#1a1a1a" stroke="#1a1a1a" stroke-width="0.12">Tst</text>
<text x="432.60" y="467.91" font-size="3.2" fill="#1a1a1a" stroke="#1a1a1a" stroke-width="0.12">Ybx2</text>
<text x="432.60" y="472.44" font-size="3.2" fill="#1a1a1a" stroke="#1a1a1a" stroke-width="0.12">Tjp3</text>
<text x="451.60" y="473.34" font-size="5.45" font-style="italic" fill="#444" stroke="#444">Tjp3</text>
<text x="432.60" y="476.98" font-size="3.2" fill="#1a1a1a" stroke="#1a1a1a" stroke-width="0.12">AI428936</text>
<text x="432.60" y="481.51" font-size="3.2" fill="#1a1a1a" stroke="#1a1a1a" stroke-width="0.12">Cdh1</text>
<text x="451.60" y="482.41" font-size="5.45" font-style="italic" fill="#444" stroke="#444">Cdh1</text>
<text x="432.60" y="486.04" font-size="3.2" fill="#1a1a1a" stroke="#1a1a1a" stroke-width="0.12">Arhgef16</text>
<text x="432.60" y="490.57" font-size="3.2" fill="#1a1a1a" stroke="#1a1a1a" stroke-width="0.12">Zbtb42</text>
<text x="432.60" y="495.10" font-size="3.2" fill="#1a1a1a" stroke="#1a1a1a" stroke-width="0.12">Cldn3</text>
<text x="451.60" y="496.00" font-size="5.45" font-style="italic" fill="#444" stroke="#444">Cldn3</text>
<text x="432.60" y="499.64" font-size="3.2" fill="#1a1a1a" stroke="#1a1a1a" stroke-width="0.12">Dennd2d</text>
<text x="432.60" y="504.17" font-size="3.2" fill="#1a1a1a" stroke="#1a1a1a" stroke-width="0.12">Myh14</text>
<text x="432.60" y="508.70" font-size="3.2" fill="#1a1a1a" stroke="#1a1a1a" stroke-width="0.12">Rasgefb</text>
<text x="432.60" y="513.23" font-size="3.2" fill="#1a1a1a" stroke="#1a1a1a" stroke-width="0.12">Bcl2l14</text>
<text x="432.60" y="517.76" font-size="3.2" fill="#1a1a1a" stroke="#1a1a1a" stroke-width="0.12">Sgsm1</text>
<text x="432.60" y="522.30" font-size="3.2" fill="#1a1a1a" stroke="#1a1a1a" stroke-width="0.12">Crb3</text>
<text x="451.60" y="523.20" font-size="5.45" font-style="italic" fill="#444" stroke="#444">Crb3</text>
<text x="432.60" y="526.83" font-size="3.2" fill="#1a1a1a" stroke="#1a1a1a" stroke-width="0.12">Tmem184a</text>
<text x="432.60" y="531.36" font-size="3.2" fill="#1a1a1a" stroke="#1a1a1a" stroke-width="0.12">Rup11</text>
<text x="432.60" y="535.89" font-size="3.2" fill="#1a1a1a" stroke="#1a1a1a" stroke-width="0.12">Rspo4</text>
<text x="432.60" y="540.42" font-size="3.2" fill="#1a1a1a" stroke="#1a1a1a" stroke-width="0.12">Sprdtc</text>
<text x="432.60" y="544.96" font-size="3.2" fill="#1a1a1a" stroke="#1a1a1a" stroke-width="0.12">Tmsg1</text>
<text x="432.60" y="549.49" font-size="3.2" fill="#1a1a1a" stroke="#1a1a1a" stroke-width="0.12">Cldn6</text>
<text x="451.60" y="550.39" font-size="5.45" font-style="italic" fill="#444" stroke="#444">Cldn6</text>
<text x="432.60" y="554.02" font-size="3.2" fill="#1a1a1a" stroke="#1a1a1a" stroke-width="0.12">Tmem1</text>
<text x="432.60" y="558.55" font-size="3.2" fill="#1a1a1a" stroke="#1a1a1a" stroke-width="0.12">Tgif1</text>
<text x="432.60" y="563.08" font-size="3.2" fill="#1a1a1a" stroke="#1a1a1a" stroke-width="0.12">Cldn9</text>
<text x="451.60" y="563.98" font-size="5.45" font-style="italic" fill="#444" stroke="#444">Cldn9</text>
<text x="432.60" y="567.62" font-size="3.2" fill="#1a1a1a" stroke="#1a1a1a" stroke-width="0.12">Pvrl3</text>
<text x="432.60" y="572.15" font-size="3.2" fill="#1a1a1a" stroke="#1a1a1a" stroke-width="0.12">Cer1b</text>
<text x="432.60" y="576.68" font-size="3.2" fill="#1a1a1a" stroke="#1a1a1a" stroke-width="0.12">Klk1</text>
<rect x="473.9" y="278.8" width="3.9" height="104" fill="url(#cs)"/>
<text x="476.50" y="275.00" font-size="7.4" text-anchor="middle" fill="#222" stroke="#222">High</text>
<text x="476.00" y="392.40" font-size="7.4" text-anchor="middle" fill="#222" stroke="#222">Low</text>
<text x="8.90" y="491.50" font-size="10.2" font-weight="bold" fill="#111" stroke="#111" stroke-width="0.38">H</text>
<rect x="132.0" y="507.3" width="94.90" height="9.8" fill="#3F80CA" stroke="#1d2b45" stroke-width="0.55"/>
<text x="126.50" y="514.50" font-size="6.55" text-anchor="end" fill="#222" stroke="#222">Tight junction</text>
<line x1="128.1" y1="512.2" x2="131.5" y2="512.2" stroke="#111" stroke-width="1.2"/>
<rect x="132.0" y="522.2" width="94.00" height="9.8" fill="#3F80CA" stroke="#1d2b45" stroke-width="0.55"/>
<text x="126.50" y="529.40" font-size="6.55" text-anchor="end" fill="#222" stroke="#222">Cell adhesion molecules</text>
<line x1="128.1" y1="527.1" x2="131.5" y2="527.1" stroke="#111" stroke-width="1.2"/>
<rect x="132.0" y="537.1" width="63.80" height="9.8" fill="#3F80CA" stroke="#1d2b45" stroke-width="0.55"/>
<text x="126.50" y="544.30" font-size="6.55" text-anchor="end" fill="#222" stroke="#222">Leukocyte transendothelial migration</text>
<line x1="128.1" y1="542.0" x2="131.5" y2="542.0" stroke="#111" stroke-width="1.2"/>
<line x1="131.5" y1="503.6" x2="131.5" y2="553.6" stroke="#111" stroke-width="1.9"/>
<line x1="130.6" y1="552.65" x2="245.8" y2="552.65" stroke="#111" stroke-width="1.9"/>
<line x1="131.5" y1="552.6" x2="131.5" y2="555.8" stroke="#111" stroke-width="1.2"/>
<text x="131.50" y="563.00" font-size="6.5" text-anchor="middle" fill="#222" stroke="#222">0</text>
<line x1="169.38" y1="552.6" x2="169.38" y2="555.8" stroke="#111" stroke-width="1.2"/>
<text x="169.38" y="563.00" font-size="6.5" text-anchor="middle" fill="#222" stroke="#222">4</text>
<line x1="207.26" y1="552.6" x2="207.26" y2="555.8" stroke="#111" stroke-width="1.2"/>
<text x="207.26" y="563.00" font-size="6.5" text-anchor="middle" fill="#222" stroke="#222">8</text>
<line x1="245.14000000000001" y1="552.6" x2="245.14000000000001" y2="555.8" stroke="#111" stroke-width="1.2"/>
<text x="245.14" y="563.00" font-size="6.5" text-anchor="middle" fill="#222" stroke="#222">12</text>
<text x="186.50" y="500.30" font-size="6.5" text-anchor="middle" fill="#222" stroke="#222">KEGG pathway</text>
<text x="187.00" y="571.20" font-size="6.5" text-anchor="middle" fill="#222" stroke="#222">–Log<tspan font-size="4.2" dy="1.4">10</tspan><tspan dy="-1.4"> FDR value</tspan></text>
</svg></body></html>
